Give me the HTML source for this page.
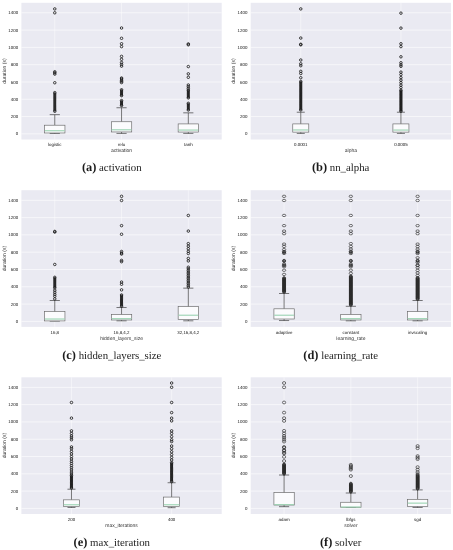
<!DOCTYPE html>
<html><head><meta charset="utf-8"><title>Boxplots</title>
<style>
html,body{margin:0;padding:0;background:#fff;}
body{width:453px;height:550px;overflow:hidden;}
svg{display:block;}
text{text-rendering:geometricPrecision;}
.t{font-family:"Liberation Sans",sans-serif;font-size:4.4px;fill:#111;}
.l{font-family:"Liberation Sans",sans-serif;font-size:5px;fill:#333;}
.c{font-family:"Liberation Serif",serif;font-size:10.8px;fill:#1c1c1c;}
.c .b{font-weight:bold;font-size:12.4px;}
</style></head><body>
<svg width="453" height="550" viewBox="0 0 453 550">
<rect width="453" height="550" fill="#fff"/>

<g>
<rect x="21.4" y="2.8" width="200.3" height="136.7" fill="#eaeaf2"/>
<line x1="21.4" x2="221.7" y1="133.85" y2="133.85" stroke="#fff" stroke-width="0.6"/>
<text class="t" x="18.1" y="135.40" text-anchor="end">0</text>
<line x1="21.4" x2="221.7" y1="116.56" y2="116.56" stroke="#fff" stroke-width="0.6"/>
<text class="t" x="18.1" y="118.11" text-anchor="end">200</text>
<line x1="21.4" x2="221.7" y1="99.27" y2="99.27" stroke="#fff" stroke-width="0.6"/>
<text class="t" x="18.1" y="100.82" text-anchor="end">400</text>
<line x1="21.4" x2="221.7" y1="81.97" y2="81.97" stroke="#fff" stroke-width="0.6"/>
<text class="t" x="18.1" y="83.52" text-anchor="end">600</text>
<line x1="21.4" x2="221.7" y1="64.68" y2="64.68" stroke="#fff" stroke-width="0.6"/>
<text class="t" x="18.1" y="66.23" text-anchor="end">800</text>
<line x1="21.4" x2="221.7" y1="47.39" y2="47.39" stroke="#fff" stroke-width="0.6"/>
<text class="t" x="18.1" y="48.94" text-anchor="end">1000</text>
<line x1="21.4" x2="221.7" y1="30.10" y2="30.10" stroke="#fff" stroke-width="0.6"/>
<text class="t" x="18.1" y="31.65" text-anchor="end">1200</text>
<line x1="21.4" x2="221.7" y1="12.81" y2="12.81" stroke="#fff" stroke-width="0.6"/>
<text class="t" x="18.1" y="14.36" text-anchor="end">1400</text>
<line x1="54.78" x2="54.78" y1="2.8" y2="139.4" stroke="#fff" stroke-width="0.45"/>
<line x1="121.55" x2="121.55" y1="2.8" y2="139.4" stroke="#fff" stroke-width="0.45"/>
<line x1="188.32" x2="188.32" y1="2.8" y2="139.4" stroke="#fff" stroke-width="0.45"/>
<path d="M54.78 125.20V114.66M49.70 114.66H59.87M54.78 132.99V133.42M49.70 133.42H59.87" stroke="#222" stroke-width="0.6" fill="none"/>
<rect x="44.62" y="125.20" width="20.33" height="7.78" fill="#fbfbfd" stroke="#666" stroke-width="0.65"/>
<line x1="44.92" x2="64.65" y1="130.74" y2="130.74" stroke="#9ad3b1" stroke-width="1.1"/>
<circle cx="54.78" cy="8.92" r="1.25" fill="none" stroke="#1a1a1a" stroke-width="0.85"/>
<circle cx="54.78" cy="12.81" r="1.25" fill="none" stroke="#1a1a1a" stroke-width="0.85"/>
<circle cx="54.78" cy="71.77" r="1.25" fill="none" stroke="#1a1a1a" stroke-width="0.85"/>
<circle cx="54.78" cy="72.81" r="1.25" fill="none" stroke="#1a1a1a" stroke-width="0.85"/>
<circle cx="54.78" cy="74.11" r="1.25" fill="none" stroke="#1a1a1a" stroke-width="0.85"/>
<circle cx="54.78" cy="82.75" r="1.25" fill="none" stroke="#1a1a1a" stroke-width="0.85"/>
<circle cx="54.78" cy="111.28" r="1.25" fill="none" stroke="#1a1a1a" stroke-width="0.85"/>
<circle cx="54.78" cy="110.25" r="1.05" fill="none" stroke="#1a1a1a" stroke-width="0.85"/>
<circle cx="54.78" cy="109.21" r="1.05" fill="none" stroke="#1a1a1a" stroke-width="0.85"/>
<circle cx="54.78" cy="108.17" r="1.05" fill="none" stroke="#1a1a1a" stroke-width="0.85"/>
<circle cx="54.78" cy="107.13" r="1.05" fill="none" stroke="#1a1a1a" stroke-width="0.85"/>
<circle cx="54.78" cy="106.10" r="1.05" fill="none" stroke="#1a1a1a" stroke-width="0.85"/>
<circle cx="54.78" cy="105.06" r="1.05" fill="none" stroke="#1a1a1a" stroke-width="0.85"/>
<circle cx="54.78" cy="104.02" r="1.05" fill="none" stroke="#1a1a1a" stroke-width="0.85"/>
<circle cx="54.78" cy="102.98" r="1.05" fill="none" stroke="#1a1a1a" stroke-width="0.85"/>
<circle cx="54.78" cy="101.95" r="1.05" fill="none" stroke="#1a1a1a" stroke-width="0.85"/>
<circle cx="54.78" cy="100.91" r="1.05" fill="none" stroke="#1a1a1a" stroke-width="0.85"/>
<circle cx="54.78" cy="99.87" r="1.05" fill="none" stroke="#1a1a1a" stroke-width="0.85"/>
<circle cx="54.78" cy="98.83" r="1.05" fill="none" stroke="#1a1a1a" stroke-width="0.85"/>
<circle cx="54.78" cy="97.80" r="1.05" fill="none" stroke="#1a1a1a" stroke-width="0.85"/>
<circle cx="54.78" cy="96.76" r="1.05" fill="none" stroke="#1a1a1a" stroke-width="0.85"/>
<circle cx="54.78" cy="95.72" r="1.05" fill="none" stroke="#1a1a1a" stroke-width="0.85"/>
<circle cx="54.78" cy="94.68" r="1.05" fill="none" stroke="#1a1a1a" stroke-width="0.85"/>
<circle cx="54.78" cy="93.65" r="1.05" fill="none" stroke="#1a1a1a" stroke-width="0.85"/>
<circle cx="54.78" cy="92.61" r="1.25" fill="none" stroke="#1a1a1a" stroke-width="0.85"/>
<text class="t" x="54.78" y="146.0" text-anchor="middle">logistic</text>
<path d="M121.55 121.75V107.74M116.47 107.74H126.63M121.55 131.95V133.42M116.47 133.42H126.63" stroke="#222" stroke-width="0.6" fill="none"/>
<rect x="111.39" y="121.75" width="20.33" height="10.20" fill="#fbfbfd" stroke="#666" stroke-width="0.65"/>
<line x1="111.69" x2="131.41" y1="129.79" y2="129.79" stroke="#9ad3b1" stroke-width="1.1"/>
<circle cx="121.55" cy="28.02" r="1.25" fill="none" stroke="#1a1a1a" stroke-width="0.85"/>
<circle cx="121.55" cy="38.31" r="1.25" fill="none" stroke="#1a1a1a" stroke-width="0.85"/>
<circle cx="121.55" cy="43.76" r="1.25" fill="none" stroke="#1a1a1a" stroke-width="0.85"/>
<circle cx="121.55" cy="46.61" r="1.25" fill="none" stroke="#1a1a1a" stroke-width="0.85"/>
<circle cx="121.55" cy="56.38" r="1.25" fill="none" stroke="#1a1a1a" stroke-width="0.85"/>
<circle cx="121.55" cy="59.32" r="1.25" fill="none" stroke="#1a1a1a" stroke-width="0.85"/>
<circle cx="121.55" cy="62.52" r="1.25" fill="none" stroke="#1a1a1a" stroke-width="0.85"/>
<circle cx="121.55" cy="64.42" r="1.25" fill="none" stroke="#1a1a1a" stroke-width="0.85"/>
<circle cx="121.55" cy="66.15" r="1.25" fill="none" stroke="#1a1a1a" stroke-width="0.85"/>
<circle cx="121.55" cy="78.00" r="1.25" fill="none" stroke="#1a1a1a" stroke-width="0.85"/>
<circle cx="121.55" cy="78.95" r="1.25" fill="none" stroke="#1a1a1a" stroke-width="0.85"/>
<circle cx="121.55" cy="80.24" r="1.25" fill="none" stroke="#1a1a1a" stroke-width="0.85"/>
<circle cx="121.55" cy="81.46" r="1.25" fill="none" stroke="#1a1a1a" stroke-width="0.85"/>
<circle cx="121.55" cy="82.58" r="1.25" fill="none" stroke="#1a1a1a" stroke-width="0.85"/>
<circle cx="121.55" cy="89.76" r="1.25" fill="none" stroke="#1a1a1a" stroke-width="0.85"/>
<circle cx="121.55" cy="90.62" r="1.05" fill="none" stroke="#1a1a1a" stroke-width="0.85"/>
<circle cx="121.55" cy="91.48" r="1.05" fill="none" stroke="#1a1a1a" stroke-width="0.85"/>
<circle cx="121.55" cy="92.35" r="1.05" fill="none" stroke="#1a1a1a" stroke-width="0.85"/>
<circle cx="121.55" cy="93.21" r="1.05" fill="none" stroke="#1a1a1a" stroke-width="0.85"/>
<circle cx="121.55" cy="94.08" r="1.05" fill="none" stroke="#1a1a1a" stroke-width="0.85"/>
<circle cx="121.55" cy="94.94" r="1.05" fill="none" stroke="#1a1a1a" stroke-width="0.85"/>
<circle cx="121.55" cy="95.63" r="1.25" fill="none" stroke="#1a1a1a" stroke-width="0.85"/>
<circle cx="121.55" cy="100.56" r="1.25" fill="none" stroke="#1a1a1a" stroke-width="0.85"/>
<circle cx="121.55" cy="101.43" r="1.05" fill="none" stroke="#1a1a1a" stroke-width="0.85"/>
<circle cx="121.55" cy="102.29" r="1.05" fill="none" stroke="#1a1a1a" stroke-width="0.85"/>
<circle cx="121.55" cy="103.16" r="1.05" fill="none" stroke="#1a1a1a" stroke-width="0.85"/>
<circle cx="121.55" cy="104.02" r="1.05" fill="none" stroke="#1a1a1a" stroke-width="0.85"/>
<circle cx="121.55" cy="104.89" r="1.05" fill="none" stroke="#1a1a1a" stroke-width="0.85"/>
<circle cx="121.55" cy="105.49" r="1.25" fill="none" stroke="#1a1a1a" stroke-width="0.85"/>
<text class="t" x="121.55" y="146.0" text-anchor="middle">relu</text>
<path d="M188.32 123.91V112.84M183.23 112.84H193.40M188.32 132.03V133.42M183.23 133.42H193.40" stroke="#222" stroke-width="0.6" fill="none"/>
<rect x="178.15" y="123.91" width="20.33" height="8.13" fill="#fbfbfd" stroke="#666" stroke-width="0.65"/>
<line x1="178.45" x2="198.18" y1="130.05" y2="130.05" stroke="#9ad3b1" stroke-width="1.1"/>
<circle cx="188.32" cy="43.93" r="1.25" fill="none" stroke="#1a1a1a" stroke-width="0.85"/>
<circle cx="188.32" cy="44.80" r="1.25" fill="none" stroke="#1a1a1a" stroke-width="0.85"/>
<circle cx="188.32" cy="66.58" r="1.25" fill="none" stroke="#1a1a1a" stroke-width="0.85"/>
<circle cx="188.32" cy="73.85" r="1.25" fill="none" stroke="#1a1a1a" stroke-width="0.85"/>
<circle cx="188.32" cy="77.31" r="1.25" fill="none" stroke="#1a1a1a" stroke-width="0.85"/>
<circle cx="188.32" cy="85.00" r="1.25" fill="none" stroke="#1a1a1a" stroke-width="0.85"/>
<circle cx="188.32" cy="86.73" r="1.25" fill="none" stroke="#1a1a1a" stroke-width="0.85"/>
<circle cx="188.32" cy="88.46" r="1.25" fill="none" stroke="#1a1a1a" stroke-width="0.85"/>
<circle cx="188.32" cy="97.88" r="1.25" fill="none" stroke="#1a1a1a" stroke-width="0.85"/>
<circle cx="188.32" cy="97.02" r="1.05" fill="none" stroke="#1a1a1a" stroke-width="0.85"/>
<circle cx="188.32" cy="96.15" r="1.05" fill="none" stroke="#1a1a1a" stroke-width="0.85"/>
<circle cx="188.32" cy="95.29" r="1.05" fill="none" stroke="#1a1a1a" stroke-width="0.85"/>
<circle cx="188.32" cy="94.42" r="1.05" fill="none" stroke="#1a1a1a" stroke-width="0.85"/>
<circle cx="188.32" cy="93.56" r="1.05" fill="none" stroke="#1a1a1a" stroke-width="0.85"/>
<circle cx="188.32" cy="92.70" r="1.05" fill="none" stroke="#1a1a1a" stroke-width="0.85"/>
<circle cx="188.32" cy="91.83" r="1.05" fill="none" stroke="#1a1a1a" stroke-width="0.85"/>
<circle cx="188.32" cy="90.97" r="1.05" fill="none" stroke="#1a1a1a" stroke-width="0.85"/>
<circle cx="188.32" cy="90.10" r="1.25" fill="none" stroke="#1a1a1a" stroke-width="0.85"/>
<circle cx="188.32" cy="109.99" r="1.25" fill="none" stroke="#1a1a1a" stroke-width="0.85"/>
<circle cx="188.32" cy="109.04" r="1.05" fill="none" stroke="#1a1a1a" stroke-width="0.85"/>
<circle cx="188.32" cy="108.08" r="1.05" fill="none" stroke="#1a1a1a" stroke-width="0.85"/>
<circle cx="188.32" cy="107.13" r="1.05" fill="none" stroke="#1a1a1a" stroke-width="0.85"/>
<circle cx="188.32" cy="106.18" r="1.05" fill="none" stroke="#1a1a1a" stroke-width="0.85"/>
<circle cx="188.32" cy="105.23" r="1.05" fill="none" stroke="#1a1a1a" stroke-width="0.85"/>
<circle cx="188.32" cy="104.28" r="1.05" fill="none" stroke="#1a1a1a" stroke-width="0.85"/>
<circle cx="188.32" cy="103.33" r="1.25" fill="none" stroke="#1a1a1a" stroke-width="0.85"/>
<text class="t" x="188.32" y="146.0" text-anchor="middle">tanh</text>
<text class="l" x="121.6" y="152.3" text-anchor="middle">activation</text>
<text class="l" transform="translate(5.8 71.1) rotate(-90)" text-anchor="middle">duration (s)</text>
<text class="c" x="111.8" y="171.2" text-anchor="middle"><tspan class="b">(a)</tspan> activation</text>
</g>
<g>
<rect x="250.7" y="2.8" width="200.3" height="136.7" fill="#eaeaf2"/>
<line x1="250.7" x2="451.0" y1="133.85" y2="133.85" stroke="#fff" stroke-width="0.6"/>
<text class="t" x="247.4" y="135.40" text-anchor="end">0</text>
<line x1="250.7" x2="451.0" y1="116.56" y2="116.56" stroke="#fff" stroke-width="0.6"/>
<text class="t" x="247.4" y="118.11" text-anchor="end">200</text>
<line x1="250.7" x2="451.0" y1="99.27" y2="99.27" stroke="#fff" stroke-width="0.6"/>
<text class="t" x="247.4" y="100.82" text-anchor="end">400</text>
<line x1="250.7" x2="451.0" y1="81.97" y2="81.97" stroke="#fff" stroke-width="0.6"/>
<text class="t" x="247.4" y="83.52" text-anchor="end">600</text>
<line x1="250.7" x2="451.0" y1="64.68" y2="64.68" stroke="#fff" stroke-width="0.6"/>
<text class="t" x="247.4" y="66.23" text-anchor="end">800</text>
<line x1="250.7" x2="451.0" y1="47.39" y2="47.39" stroke="#fff" stroke-width="0.6"/>
<text class="t" x="247.4" y="48.94" text-anchor="end">1000</text>
<line x1="250.7" x2="451.0" y1="30.10" y2="30.10" stroke="#fff" stroke-width="0.6"/>
<text class="t" x="247.4" y="31.65" text-anchor="end">1200</text>
<line x1="250.7" x2="451.0" y1="12.81" y2="12.81" stroke="#fff" stroke-width="0.6"/>
<text class="t" x="247.4" y="14.36" text-anchor="end">1400</text>
<line x1="300.77" x2="300.77" y1="2.8" y2="139.4" stroke="#fff" stroke-width="0.45"/>
<line x1="400.93" x2="400.93" y1="2.8" y2="139.4" stroke="#fff" stroke-width="0.45"/>
<path d="M300.77 123.91V112.23M296.77 112.23H304.78M300.77 132.12V133.42M296.77 133.42H304.78" stroke="#222" stroke-width="0.6" fill="none"/>
<rect x="292.76" y="123.91" width="16.02" height="8.21" fill="#fbfbfd" stroke="#666" stroke-width="0.65"/>
<line x1="293.06" x2="308.49" y1="129.96" y2="129.96" stroke="#9ad3b1" stroke-width="1.1"/>
<circle cx="300.77" cy="8.92" r="1.25" fill="none" stroke="#1a1a1a" stroke-width="0.85"/>
<circle cx="300.77" cy="38.05" r="1.25" fill="none" stroke="#1a1a1a" stroke-width="0.85"/>
<circle cx="300.77" cy="44.28" r="1.25" fill="none" stroke="#1a1a1a" stroke-width="0.85"/>
<circle cx="300.77" cy="44.80" r="1.25" fill="none" stroke="#1a1a1a" stroke-width="0.85"/>
<circle cx="300.77" cy="60.01" r="1.25" fill="none" stroke="#1a1a1a" stroke-width="0.85"/>
<circle cx="300.77" cy="63.82" r="1.25" fill="none" stroke="#1a1a1a" stroke-width="0.85"/>
<circle cx="300.77" cy="65.72" r="1.25" fill="none" stroke="#1a1a1a" stroke-width="0.85"/>
<circle cx="300.77" cy="71.34" r="1.25" fill="none" stroke="#1a1a1a" stroke-width="0.85"/>
<circle cx="300.77" cy="73.50" r="1.25" fill="none" stroke="#1a1a1a" stroke-width="0.85"/>
<circle cx="300.77" cy="77.74" r="1.25" fill="none" stroke="#1a1a1a" stroke-width="0.85"/>
<circle cx="300.77" cy="109.99" r="1.25" fill="none" stroke="#1a1a1a" stroke-width="0.85"/>
<circle cx="300.77" cy="109.12" r="1.05" fill="none" stroke="#1a1a1a" stroke-width="0.85"/>
<circle cx="300.77" cy="108.26" r="1.05" fill="none" stroke="#1a1a1a" stroke-width="0.85"/>
<circle cx="300.77" cy="107.39" r="1.05" fill="none" stroke="#1a1a1a" stroke-width="0.85"/>
<circle cx="300.77" cy="106.53" r="1.05" fill="none" stroke="#1a1a1a" stroke-width="0.85"/>
<circle cx="300.77" cy="105.66" r="1.05" fill="none" stroke="#1a1a1a" stroke-width="0.85"/>
<circle cx="300.77" cy="104.80" r="1.05" fill="none" stroke="#1a1a1a" stroke-width="0.85"/>
<circle cx="300.77" cy="103.93" r="1.05" fill="none" stroke="#1a1a1a" stroke-width="0.85"/>
<circle cx="300.77" cy="103.07" r="1.05" fill="none" stroke="#1a1a1a" stroke-width="0.85"/>
<circle cx="300.77" cy="102.21" r="1.05" fill="none" stroke="#1a1a1a" stroke-width="0.85"/>
<circle cx="300.77" cy="101.34" r="1.05" fill="none" stroke="#1a1a1a" stroke-width="0.85"/>
<circle cx="300.77" cy="100.48" r="1.05" fill="none" stroke="#1a1a1a" stroke-width="0.85"/>
<circle cx="300.77" cy="99.61" r="1.05" fill="none" stroke="#1a1a1a" stroke-width="0.85"/>
<circle cx="300.77" cy="98.75" r="1.05" fill="none" stroke="#1a1a1a" stroke-width="0.85"/>
<circle cx="300.77" cy="97.88" r="1.05" fill="none" stroke="#1a1a1a" stroke-width="0.85"/>
<circle cx="300.77" cy="97.02" r="1.05" fill="none" stroke="#1a1a1a" stroke-width="0.85"/>
<circle cx="300.77" cy="96.15" r="1.05" fill="none" stroke="#1a1a1a" stroke-width="0.85"/>
<circle cx="300.77" cy="95.29" r="1.05" fill="none" stroke="#1a1a1a" stroke-width="0.85"/>
<circle cx="300.77" cy="94.42" r="1.05" fill="none" stroke="#1a1a1a" stroke-width="0.85"/>
<circle cx="300.77" cy="93.56" r="1.05" fill="none" stroke="#1a1a1a" stroke-width="0.85"/>
<circle cx="300.77" cy="92.70" r="1.05" fill="none" stroke="#1a1a1a" stroke-width="0.85"/>
<circle cx="300.77" cy="91.83" r="1.05" fill="none" stroke="#1a1a1a" stroke-width="0.85"/>
<circle cx="300.77" cy="90.97" r="1.05" fill="none" stroke="#1a1a1a" stroke-width="0.85"/>
<circle cx="300.77" cy="90.10" r="1.05" fill="none" stroke="#1a1a1a" stroke-width="0.85"/>
<circle cx="300.77" cy="89.24" r="1.05" fill="none" stroke="#1a1a1a" stroke-width="0.85"/>
<circle cx="300.77" cy="88.37" r="1.05" fill="none" stroke="#1a1a1a" stroke-width="0.85"/>
<circle cx="300.77" cy="87.51" r="1.05" fill="none" stroke="#1a1a1a" stroke-width="0.85"/>
<circle cx="300.77" cy="86.64" r="1.05" fill="none" stroke="#1a1a1a" stroke-width="0.85"/>
<circle cx="300.77" cy="85.78" r="1.05" fill="none" stroke="#1a1a1a" stroke-width="0.85"/>
<circle cx="300.77" cy="84.91" r="1.05" fill="none" stroke="#1a1a1a" stroke-width="0.85"/>
<circle cx="300.77" cy="84.05" r="1.05" fill="none" stroke="#1a1a1a" stroke-width="0.85"/>
<circle cx="300.77" cy="83.18" r="1.05" fill="none" stroke="#1a1a1a" stroke-width="0.85"/>
<circle cx="300.77" cy="82.32" r="1.05" fill="none" stroke="#1a1a1a" stroke-width="0.85"/>
<circle cx="300.77" cy="81.46" r="1.25" fill="none" stroke="#1a1a1a" stroke-width="0.85"/>
<text class="t" x="300.77" y="146.0" text-anchor="middle">0.0001</text>
<path d="M400.93 123.91V112.23M396.92 112.23H404.93M400.93 132.12V133.42M396.92 133.42H404.93" stroke="#222" stroke-width="0.6" fill="none"/>
<rect x="392.91" y="123.91" width="16.02" height="8.21" fill="#fbfbfd" stroke="#666" stroke-width="0.65"/>
<line x1="393.21" x2="408.64" y1="130.05" y2="130.05" stroke="#9ad3b1" stroke-width="1.1"/>
<circle cx="400.93" cy="13.15" r="1.25" fill="none" stroke="#1a1a1a" stroke-width="0.85"/>
<circle cx="400.93" cy="28.11" r="1.25" fill="none" stroke="#1a1a1a" stroke-width="0.85"/>
<circle cx="400.93" cy="43.76" r="1.25" fill="none" stroke="#1a1a1a" stroke-width="0.85"/>
<circle cx="400.93" cy="46.61" r="1.25" fill="none" stroke="#1a1a1a" stroke-width="0.85"/>
<circle cx="400.93" cy="56.81" r="1.25" fill="none" stroke="#1a1a1a" stroke-width="0.85"/>
<circle cx="400.93" cy="62.78" r="1.25" fill="none" stroke="#1a1a1a" stroke-width="0.85"/>
<circle cx="400.93" cy="64.85" r="1.25" fill="none" stroke="#1a1a1a" stroke-width="0.85"/>
<circle cx="400.93" cy="66.32" r="1.25" fill="none" stroke="#1a1a1a" stroke-width="0.85"/>
<circle cx="400.93" cy="72.12" r="1.25" fill="none" stroke="#1a1a1a" stroke-width="0.85"/>
<circle cx="400.93" cy="74.62" r="1.25" fill="none" stroke="#1a1a1a" stroke-width="0.85"/>
<circle cx="400.93" cy="77.65" r="1.25" fill="none" stroke="#1a1a1a" stroke-width="0.85"/>
<circle cx="400.93" cy="80.16" r="1.25" fill="none" stroke="#1a1a1a" stroke-width="0.85"/>
<circle cx="400.93" cy="82.67" r="1.25" fill="none" stroke="#1a1a1a" stroke-width="0.85"/>
<circle cx="400.93" cy="85.17" r="1.25" fill="none" stroke="#1a1a1a" stroke-width="0.85"/>
<circle cx="400.93" cy="87.59" r="1.25" fill="none" stroke="#1a1a1a" stroke-width="0.85"/>
<circle cx="400.93" cy="111.20" r="1.25" fill="none" stroke="#1a1a1a" stroke-width="0.85"/>
<circle cx="400.93" cy="110.42" r="1.05" fill="none" stroke="#1a1a1a" stroke-width="0.85"/>
<circle cx="400.93" cy="109.64" r="1.05" fill="none" stroke="#1a1a1a" stroke-width="0.85"/>
<circle cx="400.93" cy="108.86" r="1.05" fill="none" stroke="#1a1a1a" stroke-width="0.85"/>
<circle cx="400.93" cy="108.08" r="1.05" fill="none" stroke="#1a1a1a" stroke-width="0.85"/>
<circle cx="400.93" cy="107.31" r="1.05" fill="none" stroke="#1a1a1a" stroke-width="0.85"/>
<circle cx="400.93" cy="106.53" r="1.05" fill="none" stroke="#1a1a1a" stroke-width="0.85"/>
<circle cx="400.93" cy="105.75" r="1.05" fill="none" stroke="#1a1a1a" stroke-width="0.85"/>
<circle cx="400.93" cy="104.97" r="1.05" fill="none" stroke="#1a1a1a" stroke-width="0.85"/>
<circle cx="400.93" cy="104.19" r="1.05" fill="none" stroke="#1a1a1a" stroke-width="0.85"/>
<circle cx="400.93" cy="103.42" r="1.05" fill="none" stroke="#1a1a1a" stroke-width="0.85"/>
<circle cx="400.93" cy="102.64" r="1.05" fill="none" stroke="#1a1a1a" stroke-width="0.85"/>
<circle cx="400.93" cy="101.86" r="1.05" fill="none" stroke="#1a1a1a" stroke-width="0.85"/>
<circle cx="400.93" cy="101.08" r="1.05" fill="none" stroke="#1a1a1a" stroke-width="0.85"/>
<circle cx="400.93" cy="100.30" r="1.05" fill="none" stroke="#1a1a1a" stroke-width="0.85"/>
<circle cx="400.93" cy="99.53" r="1.05" fill="none" stroke="#1a1a1a" stroke-width="0.85"/>
<circle cx="400.93" cy="98.75" r="1.05" fill="none" stroke="#1a1a1a" stroke-width="0.85"/>
<circle cx="400.93" cy="97.97" r="1.05" fill="none" stroke="#1a1a1a" stroke-width="0.85"/>
<circle cx="400.93" cy="97.19" r="1.05" fill="none" stroke="#1a1a1a" stroke-width="0.85"/>
<circle cx="400.93" cy="96.41" r="1.05" fill="none" stroke="#1a1a1a" stroke-width="0.85"/>
<circle cx="400.93" cy="95.63" r="1.05" fill="none" stroke="#1a1a1a" stroke-width="0.85"/>
<circle cx="400.93" cy="94.86" r="1.05" fill="none" stroke="#1a1a1a" stroke-width="0.85"/>
<circle cx="400.93" cy="94.08" r="1.05" fill="none" stroke="#1a1a1a" stroke-width="0.85"/>
<circle cx="400.93" cy="93.30" r="1.05" fill="none" stroke="#1a1a1a" stroke-width="0.85"/>
<circle cx="400.93" cy="92.52" r="1.05" fill="none" stroke="#1a1a1a" stroke-width="0.85"/>
<circle cx="400.93" cy="91.74" r="1.05" fill="none" stroke="#1a1a1a" stroke-width="0.85"/>
<circle cx="400.93" cy="90.97" r="1.05" fill="none" stroke="#1a1a1a" stroke-width="0.85"/>
<circle cx="400.93" cy="90.19" r="1.25" fill="none" stroke="#1a1a1a" stroke-width="0.85"/>
<text class="t" x="400.93" y="146.0" text-anchor="middle">0.0005</text>
<text class="l" x="350.9" y="152.3" text-anchor="middle">alpha</text>
<text class="l" transform="translate(235.1 71.1) rotate(-90)" text-anchor="middle">duration (s)</text>
<text class="c" x="340.7" y="171.2" text-anchor="middle"><tspan class="b">(b)</tspan> nn_alpha</text>
</g>
<g>
<rect x="21.4" y="190.2" width="200.3" height="136.7" fill="#eaeaf2"/>
<line x1="21.4" x2="221.7" y1="321.35" y2="321.35" stroke="#fff" stroke-width="0.6"/>
<text class="t" x="18.1" y="322.90" text-anchor="end">0</text>
<line x1="21.4" x2="221.7" y1="304.06" y2="304.06" stroke="#fff" stroke-width="0.6"/>
<text class="t" x="18.1" y="305.61" text-anchor="end">200</text>
<line x1="21.4" x2="221.7" y1="286.77" y2="286.77" stroke="#fff" stroke-width="0.6"/>
<text class="t" x="18.1" y="288.32" text-anchor="end">400</text>
<line x1="21.4" x2="221.7" y1="269.47" y2="269.47" stroke="#fff" stroke-width="0.6"/>
<text class="t" x="18.1" y="271.02" text-anchor="end">600</text>
<line x1="21.4" x2="221.7" y1="252.18" y2="252.18" stroke="#fff" stroke-width="0.6"/>
<text class="t" x="18.1" y="253.73" text-anchor="end">800</text>
<line x1="21.4" x2="221.7" y1="234.89" y2="234.89" stroke="#fff" stroke-width="0.6"/>
<text class="t" x="18.1" y="236.44" text-anchor="end">1000</text>
<line x1="21.4" x2="221.7" y1="217.60" y2="217.60" stroke="#fff" stroke-width="0.6"/>
<text class="t" x="18.1" y="219.15" text-anchor="end">1200</text>
<line x1="21.4" x2="221.7" y1="200.31" y2="200.31" stroke="#fff" stroke-width="0.6"/>
<text class="t" x="18.1" y="201.86" text-anchor="end">1400</text>
<line x1="54.78" x2="54.78" y1="190.2" y2="326.9" stroke="#fff" stroke-width="0.45"/>
<line x1="121.55" x2="121.55" y1="190.2" y2="326.9" stroke="#fff" stroke-width="0.45"/>
<line x1="188.32" x2="188.32" y1="190.2" y2="326.9" stroke="#fff" stroke-width="0.45"/>
<path d="M54.78 311.67V300.51M49.70 300.51H59.87M54.78 320.92V321.09M49.70 321.09H59.87" stroke="#222" stroke-width="0.6" fill="none"/>
<rect x="44.62" y="311.67" width="20.33" height="9.25" fill="#fbfbfd" stroke="#666" stroke-width="0.65"/>
<line x1="44.92" x2="64.65" y1="319.02" y2="319.02" stroke="#9ad3b1" stroke-width="1.1"/>
<circle cx="54.78" cy="231.43" r="1.25" fill="none" stroke="#1a1a1a" stroke-width="0.85"/>
<circle cx="54.78" cy="232.04" r="1.25" fill="none" stroke="#1a1a1a" stroke-width="0.85"/>
<circle cx="54.78" cy="264.46" r="1.25" fill="none" stroke="#1a1a1a" stroke-width="0.85"/>
<circle cx="54.78" cy="287.80" r="1.25" fill="none" stroke="#1a1a1a" stroke-width="0.85"/>
<circle cx="54.78" cy="286.85" r="1.05" fill="none" stroke="#1a1a1a" stroke-width="0.85"/>
<circle cx="54.78" cy="285.90" r="1.05" fill="none" stroke="#1a1a1a" stroke-width="0.85"/>
<circle cx="54.78" cy="284.95" r="1.05" fill="none" stroke="#1a1a1a" stroke-width="0.85"/>
<circle cx="54.78" cy="284.00" r="1.05" fill="none" stroke="#1a1a1a" stroke-width="0.85"/>
<circle cx="54.78" cy="283.05" r="1.05" fill="none" stroke="#1a1a1a" stroke-width="0.85"/>
<circle cx="54.78" cy="282.10" r="1.05" fill="none" stroke="#1a1a1a" stroke-width="0.85"/>
<circle cx="54.78" cy="281.15" r="1.05" fill="none" stroke="#1a1a1a" stroke-width="0.85"/>
<circle cx="54.78" cy="280.20" r="1.05" fill="none" stroke="#1a1a1a" stroke-width="0.85"/>
<circle cx="54.78" cy="279.24" r="1.05" fill="none" stroke="#1a1a1a" stroke-width="0.85"/>
<circle cx="54.78" cy="278.29" r="1.05" fill="none" stroke="#1a1a1a" stroke-width="0.85"/>
<circle cx="54.78" cy="277.34" r="1.25" fill="none" stroke="#1a1a1a" stroke-width="0.85"/>
<circle cx="54.78" cy="290.22" r="1.25" fill="none" stroke="#1a1a1a" stroke-width="0.85"/>
<circle cx="54.78" cy="292.30" r="1.25" fill="none" stroke="#1a1a1a" stroke-width="0.85"/>
<circle cx="54.78" cy="294.37" r="1.25" fill="none" stroke="#1a1a1a" stroke-width="0.85"/>
<circle cx="54.78" cy="296.28" r="1.25" fill="none" stroke="#1a1a1a" stroke-width="0.85"/>
<circle cx="54.78" cy="298.87" r="1.25" fill="none" stroke="#1a1a1a" stroke-width="0.85"/>
<text class="t" x="54.78" y="333.6" text-anchor="middle">16,8</text>
<path d="M121.55 314.52V307.52M116.47 307.52H126.63M121.55 319.97V320.83M116.47 320.83H126.63" stroke="#222" stroke-width="0.6" fill="none"/>
<rect x="111.39" y="314.52" width="20.33" height="5.45" fill="#fbfbfd" stroke="#666" stroke-width="0.65"/>
<line x1="111.69" x2="131.41" y1="318.67" y2="318.67" stroke="#9ad3b1" stroke-width="1.1"/>
<circle cx="121.55" cy="196.33" r="1.25" fill="none" stroke="#1a1a1a" stroke-width="0.85"/>
<circle cx="121.55" cy="200.48" r="1.25" fill="none" stroke="#1a1a1a" stroke-width="0.85"/>
<circle cx="121.55" cy="225.64" r="1.25" fill="none" stroke="#1a1a1a" stroke-width="0.85"/>
<circle cx="121.55" cy="234.28" r="1.25" fill="none" stroke="#1a1a1a" stroke-width="0.85"/>
<circle cx="121.55" cy="251.49" r="1.25" fill="none" stroke="#1a1a1a" stroke-width="0.85"/>
<circle cx="121.55" cy="253.05" r="1.25" fill="none" stroke="#1a1a1a" stroke-width="0.85"/>
<circle cx="121.55" cy="254.08" r="1.25" fill="none" stroke="#1a1a1a" stroke-width="0.85"/>
<circle cx="121.55" cy="260.40" r="1.25" fill="none" stroke="#1a1a1a" stroke-width="0.85"/>
<circle cx="121.55" cy="261.69" r="1.25" fill="none" stroke="#1a1a1a" stroke-width="0.85"/>
<circle cx="121.55" cy="282.10" r="1.25" fill="none" stroke="#1a1a1a" stroke-width="0.85"/>
<circle cx="121.55" cy="284.26" r="1.25" fill="none" stroke="#1a1a1a" stroke-width="0.85"/>
<circle cx="121.55" cy="289.88" r="1.25" fill="none" stroke="#1a1a1a" stroke-width="0.85"/>
<circle cx="121.55" cy="306.22" r="1.25" fill="none" stroke="#1a1a1a" stroke-width="0.85"/>
<circle cx="121.55" cy="305.35" r="1.05" fill="none" stroke="#1a1a1a" stroke-width="0.85"/>
<circle cx="121.55" cy="304.49" r="1.05" fill="none" stroke="#1a1a1a" stroke-width="0.85"/>
<circle cx="121.55" cy="303.63" r="1.05" fill="none" stroke="#1a1a1a" stroke-width="0.85"/>
<circle cx="121.55" cy="302.76" r="1.05" fill="none" stroke="#1a1a1a" stroke-width="0.85"/>
<circle cx="121.55" cy="301.90" r="1.05" fill="none" stroke="#1a1a1a" stroke-width="0.85"/>
<circle cx="121.55" cy="301.03" r="1.05" fill="none" stroke="#1a1a1a" stroke-width="0.85"/>
<circle cx="121.55" cy="300.17" r="1.05" fill="none" stroke="#1a1a1a" stroke-width="0.85"/>
<circle cx="121.55" cy="299.30" r="1.05" fill="none" stroke="#1a1a1a" stroke-width="0.85"/>
<circle cx="121.55" cy="298.44" r="1.05" fill="none" stroke="#1a1a1a" stroke-width="0.85"/>
<circle cx="121.55" cy="297.57" r="1.05" fill="none" stroke="#1a1a1a" stroke-width="0.85"/>
<circle cx="121.55" cy="296.71" r="1.05" fill="none" stroke="#1a1a1a" stroke-width="0.85"/>
<circle cx="121.55" cy="295.84" r="1.05" fill="none" stroke="#1a1a1a" stroke-width="0.85"/>
<circle cx="121.55" cy="294.98" r="1.25" fill="none" stroke="#1a1a1a" stroke-width="0.85"/>
<text class="t" x="121.55" y="333.6" text-anchor="middle">16,8,4,2</text>
<path d="M188.32 306.65V288.15M183.23 288.15H193.40M188.32 319.62V320.83M183.23 320.83H193.40" stroke="#222" stroke-width="0.6" fill="none"/>
<rect x="178.15" y="306.65" width="20.33" height="12.97" fill="#fbfbfd" stroke="#666" stroke-width="0.65"/>
<line x1="178.45" x2="198.18" y1="315.21" y2="315.21" stroke="#9ad3b1" stroke-width="1.1"/>
<circle cx="188.32" cy="215.44" r="1.25" fill="none" stroke="#1a1a1a" stroke-width="0.85"/>
<circle cx="188.32" cy="231.09" r="1.25" fill="none" stroke="#1a1a1a" stroke-width="0.85"/>
<circle cx="188.32" cy="243.62" r="1.25" fill="none" stroke="#1a1a1a" stroke-width="0.85"/>
<circle cx="188.32" cy="246.13" r="1.25" fill="none" stroke="#1a1a1a" stroke-width="0.85"/>
<circle cx="188.32" cy="248.72" r="1.25" fill="none" stroke="#1a1a1a" stroke-width="0.85"/>
<circle cx="188.32" cy="251.32" r="1.25" fill="none" stroke="#1a1a1a" stroke-width="0.85"/>
<circle cx="188.32" cy="253.48" r="1.25" fill="none" stroke="#1a1a1a" stroke-width="0.85"/>
<circle cx="188.32" cy="258.41" r="1.25" fill="none" stroke="#1a1a1a" stroke-width="0.85"/>
<circle cx="188.32" cy="260.91" r="1.25" fill="none" stroke="#1a1a1a" stroke-width="0.85"/>
<circle cx="188.32" cy="286.94" r="1.25" fill="none" stroke="#1a1a1a" stroke-width="0.85"/>
<circle cx="188.32" cy="285.30" r="1.25" fill="none" stroke="#1a1a1a" stroke-width="0.85"/>
<circle cx="188.32" cy="283.65" r="1.25" fill="none" stroke="#1a1a1a" stroke-width="0.85"/>
<circle cx="188.32" cy="282.01" r="1.25" fill="none" stroke="#1a1a1a" stroke-width="0.85"/>
<circle cx="188.32" cy="280.37" r="1.25" fill="none" stroke="#1a1a1a" stroke-width="0.85"/>
<circle cx="188.32" cy="278.73" r="1.25" fill="none" stroke="#1a1a1a" stroke-width="0.85"/>
<circle cx="188.32" cy="277.08" r="1.25" fill="none" stroke="#1a1a1a" stroke-width="0.85"/>
<circle cx="188.32" cy="275.44" r="1.25" fill="none" stroke="#1a1a1a" stroke-width="0.85"/>
<circle cx="188.32" cy="273.80" r="1.25" fill="none" stroke="#1a1a1a" stroke-width="0.85"/>
<circle cx="188.32" cy="272.15" r="1.25" fill="none" stroke="#1a1a1a" stroke-width="0.85"/>
<circle cx="188.32" cy="270.51" r="1.25" fill="none" stroke="#1a1a1a" stroke-width="0.85"/>
<circle cx="188.32" cy="268.87" r="1.25" fill="none" stroke="#1a1a1a" stroke-width="0.85"/>
<circle cx="188.32" cy="267.23" r="1.25" fill="none" stroke="#1a1a1a" stroke-width="0.85"/>
<text class="t" x="188.32" y="333.6" text-anchor="middle">32,16,8,4,2</text>
<text class="l" x="121.6" y="339.8" text-anchor="middle">hidden_layers_size</text>
<text class="l" transform="translate(5.8 258.6) rotate(-90)" text-anchor="middle">duration (s)</text>
<text class="c" x="111.8" y="358.8" text-anchor="middle"><tspan class="b">(c)</tspan> hidden_layers_size</text>
</g>
<g>
<rect x="250.7" y="190.2" width="200.3" height="136.7" fill="#eaeaf2"/>
<line x1="250.7" x2="451.0" y1="321.35" y2="321.35" stroke="#fff" stroke-width="0.6"/>
<text class="t" x="247.4" y="322.90" text-anchor="end">0</text>
<line x1="250.7" x2="451.0" y1="304.06" y2="304.06" stroke="#fff" stroke-width="0.6"/>
<text class="t" x="247.4" y="305.61" text-anchor="end">200</text>
<line x1="250.7" x2="451.0" y1="286.77" y2="286.77" stroke="#fff" stroke-width="0.6"/>
<text class="t" x="247.4" y="288.32" text-anchor="end">400</text>
<line x1="250.7" x2="451.0" y1="269.47" y2="269.47" stroke="#fff" stroke-width="0.6"/>
<text class="t" x="247.4" y="271.02" text-anchor="end">600</text>
<line x1="250.7" x2="451.0" y1="252.18" y2="252.18" stroke="#fff" stroke-width="0.6"/>
<text class="t" x="247.4" y="253.73" text-anchor="end">800</text>
<line x1="250.7" x2="451.0" y1="234.89" y2="234.89" stroke="#fff" stroke-width="0.6"/>
<text class="t" x="247.4" y="236.44" text-anchor="end">1000</text>
<line x1="250.7" x2="451.0" y1="217.60" y2="217.60" stroke="#fff" stroke-width="0.6"/>
<text class="t" x="247.4" y="219.15" text-anchor="end">1200</text>
<line x1="250.7" x2="451.0" y1="200.31" y2="200.31" stroke="#fff" stroke-width="0.6"/>
<text class="t" x="247.4" y="201.86" text-anchor="end">1400</text>
<line x1="284.08" x2="284.08" y1="190.2" y2="326.9" stroke="#fff" stroke-width="0.45"/>
<line x1="350.85" x2="350.85" y1="190.2" y2="326.9" stroke="#fff" stroke-width="0.45"/>
<line x1="417.62" x2="417.62" y1="190.2" y2="326.9" stroke="#fff" stroke-width="0.45"/>
<path d="M284.08 308.81V293.51M279.00 293.51H289.17M284.08 319.02V320.57M279.00 320.57H289.17" stroke="#222" stroke-width="0.6" fill="none"/>
<rect x="273.92" y="308.81" width="20.33" height="10.20" fill="#fbfbfd" stroke="#666" stroke-width="0.65"/>
<line x1="274.22" x2="293.95" y1="315.21" y2="315.21" stroke="#9ad3b1" stroke-width="1.1"/>
<ellipse cx="284.08" cy="196.33" rx="1.7" ry="1.2" fill="none" stroke="#2a2a2a" stroke-width="0.65"/>
<ellipse cx="284.08" cy="200.48" rx="1.7" ry="1.2" fill="none" stroke="#2a2a2a" stroke-width="0.65"/>
<ellipse cx="284.08" cy="215.44" rx="1.7" ry="1.2" fill="none" stroke="#2a2a2a" stroke-width="0.65"/>
<ellipse cx="284.08" cy="225.64" rx="1.7" ry="1.2" fill="none" stroke="#2a2a2a" stroke-width="0.65"/>
<ellipse cx="284.08" cy="231.09" rx="1.7" ry="1.2" fill="none" stroke="#2a2a2a" stroke-width="0.65"/>
<ellipse cx="284.08" cy="233.68" rx="1.7" ry="1.2" fill="none" stroke="#2a2a2a" stroke-width="0.65"/>
<ellipse cx="284.08" cy="244.14" rx="1.7" ry="1.2" fill="none" stroke="#2a2a2a" stroke-width="0.65"/>
<ellipse cx="284.08" cy="246.39" rx="1.7" ry="1.2" fill="none" stroke="#2a2a2a" stroke-width="0.65"/>
<ellipse cx="284.08" cy="249.59" rx="1.7" ry="1.2" fill="none" stroke="#2a2a2a" stroke-width="0.65"/>
<ellipse cx="284.08" cy="251.49" rx="1.7" ry="1.2" fill="none" stroke="#2a2a2a" stroke-width="0.65"/>
<ellipse cx="284.08" cy="252.10" rx="1.45" ry="1.2" fill="none" stroke="#2a2a2a" stroke-width="0.65"/>
<ellipse cx="284.08" cy="252.70" rx="1.45" ry="1.2" fill="none" stroke="#2a2a2a" stroke-width="0.65"/>
<ellipse cx="284.08" cy="253.39" rx="1.7" ry="1.2" fill="none" stroke="#2a2a2a" stroke-width="0.65"/>
<ellipse cx="284.08" cy="260.48" rx="1.45" ry="1.2" fill="none" stroke="#2a2a2a" stroke-width="0.65"/>
<ellipse cx="284.08" cy="260.91" rx="1.45" ry="1.2" fill="none" stroke="#2a2a2a" stroke-width="0.65"/>
<ellipse cx="284.08" cy="261.35" rx="1.45" ry="1.2" fill="none" stroke="#2a2a2a" stroke-width="0.65"/>
<ellipse cx="284.08" cy="264.11" rx="1.7" ry="1.2" fill="none" stroke="#2a2a2a" stroke-width="0.65"/>
<ellipse cx="284.08" cy="265.15" rx="1.45" ry="1.2" fill="none" stroke="#2a2a2a" stroke-width="0.65"/>
<ellipse cx="284.08" cy="265.58" rx="1.7" ry="1.2" fill="none" stroke="#2a2a2a" stroke-width="0.65"/>
<ellipse cx="284.08" cy="266.71" rx="1.7" ry="1.2" fill="none" stroke="#2a2a2a" stroke-width="0.65"/>
<ellipse cx="284.08" cy="270.25" rx="1.7" ry="1.2" fill="none" stroke="#2a2a2a" stroke-width="0.65"/>
<ellipse cx="284.08" cy="274.40" rx="1.7" ry="1.2" fill="none" stroke="#2a2a2a" stroke-width="0.65"/>
<ellipse cx="284.08" cy="292.13" rx="1.45" ry="1.2" fill="none" stroke="#2a2a2a" stroke-width="0.65"/>
<ellipse cx="284.08" cy="291.69" rx="1.45" ry="1.2" fill="none" stroke="#2a2a2a" stroke-width="0.65"/>
<ellipse cx="284.08" cy="291.26" rx="1.45" ry="1.2" fill="none" stroke="#2a2a2a" stroke-width="0.65"/>
<ellipse cx="284.08" cy="290.83" rx="1.45" ry="1.2" fill="none" stroke="#2a2a2a" stroke-width="0.65"/>
<ellipse cx="284.08" cy="290.40" rx="1.45" ry="1.2" fill="none" stroke="#2a2a2a" stroke-width="0.65"/>
<ellipse cx="284.08" cy="289.97" rx="1.45" ry="1.2" fill="none" stroke="#2a2a2a" stroke-width="0.65"/>
<ellipse cx="284.08" cy="289.53" rx="1.45" ry="1.2" fill="none" stroke="#2a2a2a" stroke-width="0.65"/>
<ellipse cx="284.08" cy="289.10" rx="1.45" ry="1.2" fill="none" stroke="#2a2a2a" stroke-width="0.65"/>
<ellipse cx="284.08" cy="288.67" rx="1.45" ry="1.2" fill="none" stroke="#2a2a2a" stroke-width="0.65"/>
<ellipse cx="284.08" cy="288.24" rx="1.45" ry="1.2" fill="none" stroke="#2a2a2a" stroke-width="0.65"/>
<ellipse cx="284.08" cy="287.80" rx="1.45" ry="1.2" fill="none" stroke="#2a2a2a" stroke-width="0.65"/>
<ellipse cx="284.08" cy="287.37" rx="1.45" ry="1.2" fill="none" stroke="#2a2a2a" stroke-width="0.65"/>
<ellipse cx="284.08" cy="286.94" rx="1.45" ry="1.2" fill="none" stroke="#2a2a2a" stroke-width="0.65"/>
<ellipse cx="284.08" cy="286.51" rx="1.45" ry="1.2" fill="none" stroke="#2a2a2a" stroke-width="0.65"/>
<ellipse cx="284.08" cy="286.07" rx="1.45" ry="1.2" fill="none" stroke="#2a2a2a" stroke-width="0.65"/>
<ellipse cx="284.08" cy="285.64" rx="1.45" ry="1.2" fill="none" stroke="#2a2a2a" stroke-width="0.65"/>
<ellipse cx="284.08" cy="285.21" rx="1.45" ry="1.2" fill="none" stroke="#2a2a2a" stroke-width="0.65"/>
<ellipse cx="284.08" cy="284.78" rx="1.45" ry="1.2" fill="none" stroke="#2a2a2a" stroke-width="0.65"/>
<ellipse cx="284.08" cy="284.35" rx="1.45" ry="1.2" fill="none" stroke="#2a2a2a" stroke-width="0.65"/>
<ellipse cx="284.08" cy="283.91" rx="1.45" ry="1.2" fill="none" stroke="#2a2a2a" stroke-width="0.65"/>
<ellipse cx="284.08" cy="283.48" rx="1.45" ry="1.2" fill="none" stroke="#2a2a2a" stroke-width="0.65"/>
<ellipse cx="284.08" cy="283.05" rx="1.45" ry="1.2" fill="none" stroke="#2a2a2a" stroke-width="0.65"/>
<ellipse cx="284.08" cy="282.62" rx="1.45" ry="1.2" fill="none" stroke="#2a2a2a" stroke-width="0.65"/>
<ellipse cx="284.08" cy="282.18" rx="1.45" ry="1.2" fill="none" stroke="#2a2a2a" stroke-width="0.65"/>
<ellipse cx="284.08" cy="281.75" rx="1.45" ry="1.2" fill="none" stroke="#2a2a2a" stroke-width="0.65"/>
<ellipse cx="284.08" cy="281.32" rx="1.45" ry="1.2" fill="none" stroke="#2a2a2a" stroke-width="0.65"/>
<ellipse cx="284.08" cy="280.89" rx="1.45" ry="1.2" fill="none" stroke="#2a2a2a" stroke-width="0.65"/>
<ellipse cx="284.08" cy="280.45" rx="1.45" ry="1.2" fill="none" stroke="#2a2a2a" stroke-width="0.65"/>
<ellipse cx="284.08" cy="280.02" rx="1.45" ry="1.2" fill="none" stroke="#2a2a2a" stroke-width="0.65"/>
<ellipse cx="284.08" cy="279.59" rx="1.45" ry="1.2" fill="none" stroke="#2a2a2a" stroke-width="0.65"/>
<ellipse cx="284.08" cy="279.16" rx="1.45" ry="1.2" fill="none" stroke="#2a2a2a" stroke-width="0.65"/>
<ellipse cx="284.08" cy="278.73" rx="1.45" ry="1.2" fill="none" stroke="#2a2a2a" stroke-width="0.65"/>
<ellipse cx="284.08" cy="278.29" rx="1.45" ry="1.2" fill="none" stroke="#2a2a2a" stroke-width="0.65"/>
<ellipse cx="284.08" cy="277.86" rx="1.45" ry="1.2" fill="none" stroke="#2a2a2a" stroke-width="0.65"/>
<text class="t" x="284.08" y="333.6" text-anchor="middle">adaptive</text>
<path d="M350.85 314.52V306.31M345.77 306.31H355.93M350.85 319.97V320.83M345.77 320.83H355.93" stroke="#222" stroke-width="0.6" fill="none"/>
<rect x="340.69" y="314.52" width="20.33" height="5.45" fill="#fbfbfd" stroke="#666" stroke-width="0.65"/>
<line x1="340.99" x2="360.72" y1="318.67" y2="318.67" stroke="#9ad3b1" stroke-width="1.1"/>
<ellipse cx="350.85" cy="196.33" rx="1.7" ry="1.2" fill="none" stroke="#2a2a2a" stroke-width="0.65"/>
<ellipse cx="350.85" cy="200.48" rx="1.7" ry="1.2" fill="none" stroke="#2a2a2a" stroke-width="0.65"/>
<ellipse cx="350.85" cy="215.44" rx="1.7" ry="1.2" fill="none" stroke="#2a2a2a" stroke-width="0.65"/>
<ellipse cx="350.85" cy="225.64" rx="1.7" ry="1.2" fill="none" stroke="#2a2a2a" stroke-width="0.65"/>
<ellipse cx="350.85" cy="231.09" rx="1.7" ry="1.2" fill="none" stroke="#2a2a2a" stroke-width="0.65"/>
<ellipse cx="350.85" cy="233.68" rx="1.7" ry="1.2" fill="none" stroke="#2a2a2a" stroke-width="0.65"/>
<ellipse cx="350.85" cy="243.62" rx="1.7" ry="1.2" fill="none" stroke="#2a2a2a" stroke-width="0.65"/>
<ellipse cx="350.85" cy="246.56" rx="1.7" ry="1.2" fill="none" stroke="#2a2a2a" stroke-width="0.65"/>
<ellipse cx="350.85" cy="249.16" rx="1.7" ry="1.2" fill="none" stroke="#2a2a2a" stroke-width="0.65"/>
<ellipse cx="350.85" cy="251.32" rx="1.7" ry="1.2" fill="none" stroke="#2a2a2a" stroke-width="0.65"/>
<ellipse cx="350.85" cy="251.92" rx="1.45" ry="1.2" fill="none" stroke="#2a2a2a" stroke-width="0.65"/>
<ellipse cx="350.85" cy="252.53" rx="1.45" ry="1.2" fill="none" stroke="#2a2a2a" stroke-width="0.65"/>
<ellipse cx="350.85" cy="253.48" rx="1.7" ry="1.2" fill="none" stroke="#2a2a2a" stroke-width="0.65"/>
<ellipse cx="350.85" cy="260.48" rx="1.45" ry="1.2" fill="none" stroke="#2a2a2a" stroke-width="0.65"/>
<ellipse cx="350.85" cy="260.91" rx="1.45" ry="1.2" fill="none" stroke="#2a2a2a" stroke-width="0.65"/>
<ellipse cx="350.85" cy="261.35" rx="1.45" ry="1.2" fill="none" stroke="#2a2a2a" stroke-width="0.65"/>
<ellipse cx="350.85" cy="264.11" rx="1.7" ry="1.2" fill="none" stroke="#2a2a2a" stroke-width="0.65"/>
<ellipse cx="350.85" cy="265.15" rx="1.45" ry="1.2" fill="none" stroke="#2a2a2a" stroke-width="0.65"/>
<ellipse cx="350.85" cy="265.58" rx="1.7" ry="1.2" fill="none" stroke="#2a2a2a" stroke-width="0.65"/>
<ellipse cx="350.85" cy="266.71" rx="1.7" ry="1.2" fill="none" stroke="#2a2a2a" stroke-width="0.65"/>
<ellipse cx="350.85" cy="270.25" rx="1.7" ry="1.2" fill="none" stroke="#2a2a2a" stroke-width="0.65"/>
<ellipse cx="350.85" cy="273.36" rx="1.7" ry="1.2" fill="none" stroke="#2a2a2a" stroke-width="0.65"/>
<ellipse cx="350.85" cy="305.10" rx="1.45" ry="1.2" fill="none" stroke="#2a2a2a" stroke-width="0.65"/>
<ellipse cx="350.85" cy="304.66" rx="1.45" ry="1.2" fill="none" stroke="#2a2a2a" stroke-width="0.65"/>
<ellipse cx="350.85" cy="304.23" rx="1.45" ry="1.2" fill="none" stroke="#2a2a2a" stroke-width="0.65"/>
<ellipse cx="350.85" cy="303.80" rx="1.45" ry="1.2" fill="none" stroke="#2a2a2a" stroke-width="0.65"/>
<ellipse cx="350.85" cy="303.37" rx="1.45" ry="1.2" fill="none" stroke="#2a2a2a" stroke-width="0.65"/>
<ellipse cx="350.85" cy="302.93" rx="1.45" ry="1.2" fill="none" stroke="#2a2a2a" stroke-width="0.65"/>
<ellipse cx="350.85" cy="302.50" rx="1.45" ry="1.2" fill="none" stroke="#2a2a2a" stroke-width="0.65"/>
<ellipse cx="350.85" cy="302.07" rx="1.45" ry="1.2" fill="none" stroke="#2a2a2a" stroke-width="0.65"/>
<ellipse cx="350.85" cy="301.64" rx="1.45" ry="1.2" fill="none" stroke="#2a2a2a" stroke-width="0.65"/>
<ellipse cx="350.85" cy="301.20" rx="1.45" ry="1.2" fill="none" stroke="#2a2a2a" stroke-width="0.65"/>
<ellipse cx="350.85" cy="300.77" rx="1.45" ry="1.2" fill="none" stroke="#2a2a2a" stroke-width="0.65"/>
<ellipse cx="350.85" cy="300.34" rx="1.45" ry="1.2" fill="none" stroke="#2a2a2a" stroke-width="0.65"/>
<ellipse cx="350.85" cy="299.91" rx="1.45" ry="1.2" fill="none" stroke="#2a2a2a" stroke-width="0.65"/>
<ellipse cx="350.85" cy="299.48" rx="1.45" ry="1.2" fill="none" stroke="#2a2a2a" stroke-width="0.65"/>
<ellipse cx="350.85" cy="299.04" rx="1.45" ry="1.2" fill="none" stroke="#2a2a2a" stroke-width="0.65"/>
<ellipse cx="350.85" cy="298.61" rx="1.45" ry="1.2" fill="none" stroke="#2a2a2a" stroke-width="0.65"/>
<ellipse cx="350.85" cy="298.18" rx="1.45" ry="1.2" fill="none" stroke="#2a2a2a" stroke-width="0.65"/>
<ellipse cx="350.85" cy="297.75" rx="1.45" ry="1.2" fill="none" stroke="#2a2a2a" stroke-width="0.65"/>
<ellipse cx="350.85" cy="297.31" rx="1.45" ry="1.2" fill="none" stroke="#2a2a2a" stroke-width="0.65"/>
<ellipse cx="350.85" cy="296.88" rx="1.45" ry="1.2" fill="none" stroke="#2a2a2a" stroke-width="0.65"/>
<ellipse cx="350.85" cy="296.45" rx="1.45" ry="1.2" fill="none" stroke="#2a2a2a" stroke-width="0.65"/>
<ellipse cx="350.85" cy="296.02" rx="1.45" ry="1.2" fill="none" stroke="#2a2a2a" stroke-width="0.65"/>
<ellipse cx="350.85" cy="295.58" rx="1.45" ry="1.2" fill="none" stroke="#2a2a2a" stroke-width="0.65"/>
<ellipse cx="350.85" cy="295.15" rx="1.45" ry="1.2" fill="none" stroke="#2a2a2a" stroke-width="0.65"/>
<ellipse cx="350.85" cy="294.72" rx="1.45" ry="1.2" fill="none" stroke="#2a2a2a" stroke-width="0.65"/>
<ellipse cx="350.85" cy="294.29" rx="1.45" ry="1.2" fill="none" stroke="#2a2a2a" stroke-width="0.65"/>
<ellipse cx="350.85" cy="293.86" rx="1.45" ry="1.2" fill="none" stroke="#2a2a2a" stroke-width="0.65"/>
<ellipse cx="350.85" cy="293.42" rx="1.45" ry="1.2" fill="none" stroke="#2a2a2a" stroke-width="0.65"/>
<ellipse cx="350.85" cy="292.99" rx="1.45" ry="1.2" fill="none" stroke="#2a2a2a" stroke-width="0.65"/>
<ellipse cx="350.85" cy="292.56" rx="1.45" ry="1.2" fill="none" stroke="#2a2a2a" stroke-width="0.65"/>
<ellipse cx="350.85" cy="292.13" rx="1.45" ry="1.2" fill="none" stroke="#2a2a2a" stroke-width="0.65"/>
<ellipse cx="350.85" cy="291.69" rx="1.45" ry="1.2" fill="none" stroke="#2a2a2a" stroke-width="0.65"/>
<ellipse cx="350.85" cy="291.26" rx="1.45" ry="1.2" fill="none" stroke="#2a2a2a" stroke-width="0.65"/>
<ellipse cx="350.85" cy="290.83" rx="1.45" ry="1.2" fill="none" stroke="#2a2a2a" stroke-width="0.65"/>
<ellipse cx="350.85" cy="290.40" rx="1.45" ry="1.2" fill="none" stroke="#2a2a2a" stroke-width="0.65"/>
<ellipse cx="350.85" cy="289.97" rx="1.45" ry="1.2" fill="none" stroke="#2a2a2a" stroke-width="0.65"/>
<ellipse cx="350.85" cy="289.53" rx="1.45" ry="1.2" fill="none" stroke="#2a2a2a" stroke-width="0.65"/>
<ellipse cx="350.85" cy="289.10" rx="1.45" ry="1.2" fill="none" stroke="#2a2a2a" stroke-width="0.65"/>
<ellipse cx="350.85" cy="288.67" rx="1.45" ry="1.2" fill="none" stroke="#2a2a2a" stroke-width="0.65"/>
<ellipse cx="350.85" cy="288.24" rx="1.45" ry="1.2" fill="none" stroke="#2a2a2a" stroke-width="0.65"/>
<ellipse cx="350.85" cy="287.80" rx="1.45" ry="1.2" fill="none" stroke="#2a2a2a" stroke-width="0.65"/>
<ellipse cx="350.85" cy="287.37" rx="1.45" ry="1.2" fill="none" stroke="#2a2a2a" stroke-width="0.65"/>
<ellipse cx="350.85" cy="286.94" rx="1.45" ry="1.2" fill="none" stroke="#2a2a2a" stroke-width="0.65"/>
<ellipse cx="350.85" cy="286.51" rx="1.45" ry="1.2" fill="none" stroke="#2a2a2a" stroke-width="0.65"/>
<ellipse cx="350.85" cy="286.07" rx="1.45" ry="1.2" fill="none" stroke="#2a2a2a" stroke-width="0.65"/>
<ellipse cx="350.85" cy="285.64" rx="1.45" ry="1.2" fill="none" stroke="#2a2a2a" stroke-width="0.65"/>
<ellipse cx="350.85" cy="285.21" rx="1.45" ry="1.2" fill="none" stroke="#2a2a2a" stroke-width="0.65"/>
<ellipse cx="350.85" cy="284.78" rx="1.45" ry="1.2" fill="none" stroke="#2a2a2a" stroke-width="0.65"/>
<ellipse cx="350.85" cy="284.35" rx="1.45" ry="1.2" fill="none" stroke="#2a2a2a" stroke-width="0.65"/>
<ellipse cx="350.85" cy="283.91" rx="1.45" ry="1.2" fill="none" stroke="#2a2a2a" stroke-width="0.65"/>
<ellipse cx="350.85" cy="283.48" rx="1.45" ry="1.2" fill="none" stroke="#2a2a2a" stroke-width="0.65"/>
<ellipse cx="350.85" cy="283.05" rx="1.45" ry="1.2" fill="none" stroke="#2a2a2a" stroke-width="0.65"/>
<ellipse cx="350.85" cy="282.62" rx="1.45" ry="1.2" fill="none" stroke="#2a2a2a" stroke-width="0.65"/>
<ellipse cx="350.85" cy="282.18" rx="1.45" ry="1.2" fill="none" stroke="#2a2a2a" stroke-width="0.65"/>
<ellipse cx="350.85" cy="281.75" rx="1.45" ry="1.2" fill="none" stroke="#2a2a2a" stroke-width="0.65"/>
<ellipse cx="350.85" cy="281.32" rx="1.45" ry="1.2" fill="none" stroke="#2a2a2a" stroke-width="0.65"/>
<ellipse cx="350.85" cy="280.89" rx="1.45" ry="1.2" fill="none" stroke="#2a2a2a" stroke-width="0.65"/>
<ellipse cx="350.85" cy="280.45" rx="1.45" ry="1.2" fill="none" stroke="#2a2a2a" stroke-width="0.65"/>
<ellipse cx="350.85" cy="280.02" rx="1.45" ry="1.2" fill="none" stroke="#2a2a2a" stroke-width="0.65"/>
<ellipse cx="350.85" cy="279.59" rx="1.45" ry="1.2" fill="none" stroke="#2a2a2a" stroke-width="0.65"/>
<ellipse cx="350.85" cy="279.16" rx="1.45" ry="1.2" fill="none" stroke="#2a2a2a" stroke-width="0.65"/>
<ellipse cx="350.85" cy="278.73" rx="1.45" ry="1.2" fill="none" stroke="#2a2a2a" stroke-width="0.65"/>
<ellipse cx="350.85" cy="278.29" rx="1.45" ry="1.2" fill="none" stroke="#2a2a2a" stroke-width="0.65"/>
<ellipse cx="350.85" cy="277.86" rx="1.45" ry="1.2" fill="none" stroke="#2a2a2a" stroke-width="0.65"/>
<ellipse cx="350.85" cy="277.43" rx="1.45" ry="1.2" fill="none" stroke="#2a2a2a" stroke-width="0.65"/>
<ellipse cx="350.85" cy="277.00" rx="1.45" ry="1.2" fill="none" stroke="#2a2a2a" stroke-width="0.65"/>
<ellipse cx="350.85" cy="276.56" rx="1.45" ry="1.2" fill="none" stroke="#2a2a2a" stroke-width="0.65"/>
<ellipse cx="350.85" cy="276.13" rx="1.45" ry="1.2" fill="none" stroke="#2a2a2a" stroke-width="0.65"/>
<text class="t" x="350.85" y="333.6" text-anchor="middle">constant</text>
<path d="M417.62 311.67V300.51M412.53 300.51H422.70M417.62 319.97V320.83M412.53 320.83H422.70" stroke="#222" stroke-width="0.6" fill="none"/>
<rect x="407.45" y="311.67" width="20.33" height="8.30" fill="#fbfbfd" stroke="#666" stroke-width="0.65"/>
<line x1="407.75" x2="427.48" y1="318.67" y2="318.67" stroke="#9ad3b1" stroke-width="1.1"/>
<ellipse cx="417.62" cy="196.33" rx="1.7" ry="1.2" fill="none" stroke="#2a2a2a" stroke-width="0.65"/>
<ellipse cx="417.62" cy="200.48" rx="1.7" ry="1.2" fill="none" stroke="#2a2a2a" stroke-width="0.65"/>
<ellipse cx="417.62" cy="215.44" rx="1.7" ry="1.2" fill="none" stroke="#2a2a2a" stroke-width="0.65"/>
<ellipse cx="417.62" cy="225.64" rx="1.7" ry="1.2" fill="none" stroke="#2a2a2a" stroke-width="0.65"/>
<ellipse cx="417.62" cy="231.09" rx="1.7" ry="1.2" fill="none" stroke="#2a2a2a" stroke-width="0.65"/>
<ellipse cx="417.62" cy="233.68" rx="1.7" ry="1.2" fill="none" stroke="#2a2a2a" stroke-width="0.65"/>
<ellipse cx="417.62" cy="244.14" rx="1.7" ry="1.2" fill="none" stroke="#2a2a2a" stroke-width="0.65"/>
<ellipse cx="417.62" cy="246.56" rx="1.7" ry="1.2" fill="none" stroke="#2a2a2a" stroke-width="0.65"/>
<ellipse cx="417.62" cy="249.16" rx="1.7" ry="1.2" fill="none" stroke="#2a2a2a" stroke-width="0.65"/>
<ellipse cx="417.62" cy="251.32" rx="1.7" ry="1.2" fill="none" stroke="#2a2a2a" stroke-width="0.65"/>
<ellipse cx="417.62" cy="251.92" rx="1.45" ry="1.2" fill="none" stroke="#2a2a2a" stroke-width="0.65"/>
<ellipse cx="417.62" cy="252.53" rx="1.45" ry="1.2" fill="none" stroke="#2a2a2a" stroke-width="0.65"/>
<ellipse cx="417.62" cy="253.48" rx="1.7" ry="1.2" fill="none" stroke="#2a2a2a" stroke-width="0.65"/>
<ellipse cx="417.62" cy="257.80" rx="1.7" ry="1.2" fill="none" stroke="#2a2a2a" stroke-width="0.65"/>
<ellipse cx="417.62" cy="260.40" rx="1.45" ry="1.2" fill="none" stroke="#2a2a2a" stroke-width="0.65"/>
<ellipse cx="417.62" cy="260.83" rx="1.45" ry="1.2" fill="none" stroke="#2a2a2a" stroke-width="0.65"/>
<ellipse cx="417.62" cy="261.26" rx="1.45" ry="1.2" fill="none" stroke="#2a2a2a" stroke-width="0.65"/>
<ellipse cx="417.62" cy="262.56" rx="1.7" ry="1.2" fill="none" stroke="#2a2a2a" stroke-width="0.65"/>
<ellipse cx="417.62" cy="265.15" rx="1.7" ry="1.2" fill="none" stroke="#2a2a2a" stroke-width="0.65"/>
<ellipse cx="417.62" cy="265.58" rx="1.7" ry="1.2" fill="none" stroke="#2a2a2a" stroke-width="0.65"/>
<ellipse cx="417.62" cy="267.74" rx="1.7" ry="1.2" fill="none" stroke="#2a2a2a" stroke-width="0.65"/>
<ellipse cx="417.62" cy="270.34" rx="1.7" ry="1.2" fill="none" stroke="#2a2a2a" stroke-width="0.65"/>
<ellipse cx="417.62" cy="272.93" rx="1.7" ry="1.2" fill="none" stroke="#2a2a2a" stroke-width="0.65"/>
<ellipse cx="417.62" cy="275.53" rx="1.7" ry="1.2" fill="none" stroke="#2a2a2a" stroke-width="0.65"/>
<ellipse cx="417.62" cy="299.30" rx="1.45" ry="1.2" fill="none" stroke="#2a2a2a" stroke-width="0.65"/>
<ellipse cx="417.62" cy="298.87" rx="1.45" ry="1.2" fill="none" stroke="#2a2a2a" stroke-width="0.65"/>
<ellipse cx="417.62" cy="298.44" rx="1.45" ry="1.2" fill="none" stroke="#2a2a2a" stroke-width="0.65"/>
<ellipse cx="417.62" cy="298.01" rx="1.45" ry="1.2" fill="none" stroke="#2a2a2a" stroke-width="0.65"/>
<ellipse cx="417.62" cy="297.57" rx="1.45" ry="1.2" fill="none" stroke="#2a2a2a" stroke-width="0.65"/>
<ellipse cx="417.62" cy="297.14" rx="1.45" ry="1.2" fill="none" stroke="#2a2a2a" stroke-width="0.65"/>
<ellipse cx="417.62" cy="296.71" rx="1.45" ry="1.2" fill="none" stroke="#2a2a2a" stroke-width="0.65"/>
<ellipse cx="417.62" cy="296.28" rx="1.45" ry="1.2" fill="none" stroke="#2a2a2a" stroke-width="0.65"/>
<ellipse cx="417.62" cy="295.84" rx="1.45" ry="1.2" fill="none" stroke="#2a2a2a" stroke-width="0.65"/>
<ellipse cx="417.62" cy="295.41" rx="1.45" ry="1.2" fill="none" stroke="#2a2a2a" stroke-width="0.65"/>
<ellipse cx="417.62" cy="294.98" rx="1.45" ry="1.2" fill="none" stroke="#2a2a2a" stroke-width="0.65"/>
<ellipse cx="417.62" cy="294.55" rx="1.45" ry="1.2" fill="none" stroke="#2a2a2a" stroke-width="0.65"/>
<ellipse cx="417.62" cy="294.12" rx="1.45" ry="1.2" fill="none" stroke="#2a2a2a" stroke-width="0.65"/>
<ellipse cx="417.62" cy="293.68" rx="1.45" ry="1.2" fill="none" stroke="#2a2a2a" stroke-width="0.65"/>
<ellipse cx="417.62" cy="293.25" rx="1.45" ry="1.2" fill="none" stroke="#2a2a2a" stroke-width="0.65"/>
<ellipse cx="417.62" cy="292.82" rx="1.45" ry="1.2" fill="none" stroke="#2a2a2a" stroke-width="0.65"/>
<ellipse cx="417.62" cy="292.39" rx="1.45" ry="1.2" fill="none" stroke="#2a2a2a" stroke-width="0.65"/>
<ellipse cx="417.62" cy="291.95" rx="1.45" ry="1.2" fill="none" stroke="#2a2a2a" stroke-width="0.65"/>
<ellipse cx="417.62" cy="291.52" rx="1.45" ry="1.2" fill="none" stroke="#2a2a2a" stroke-width="0.65"/>
<ellipse cx="417.62" cy="291.09" rx="1.45" ry="1.2" fill="none" stroke="#2a2a2a" stroke-width="0.65"/>
<ellipse cx="417.62" cy="290.66" rx="1.45" ry="1.2" fill="none" stroke="#2a2a2a" stroke-width="0.65"/>
<ellipse cx="417.62" cy="290.22" rx="1.45" ry="1.2" fill="none" stroke="#2a2a2a" stroke-width="0.65"/>
<ellipse cx="417.62" cy="289.79" rx="1.45" ry="1.2" fill="none" stroke="#2a2a2a" stroke-width="0.65"/>
<ellipse cx="417.62" cy="289.36" rx="1.45" ry="1.2" fill="none" stroke="#2a2a2a" stroke-width="0.65"/>
<ellipse cx="417.62" cy="288.93" rx="1.45" ry="1.2" fill="none" stroke="#2a2a2a" stroke-width="0.65"/>
<ellipse cx="417.62" cy="288.50" rx="1.45" ry="1.2" fill="none" stroke="#2a2a2a" stroke-width="0.65"/>
<ellipse cx="417.62" cy="288.06" rx="1.45" ry="1.2" fill="none" stroke="#2a2a2a" stroke-width="0.65"/>
<ellipse cx="417.62" cy="287.63" rx="1.45" ry="1.2" fill="none" stroke="#2a2a2a" stroke-width="0.65"/>
<ellipse cx="417.62" cy="287.20" rx="1.45" ry="1.2" fill="none" stroke="#2a2a2a" stroke-width="0.65"/>
<ellipse cx="417.62" cy="286.77" rx="1.45" ry="1.2" fill="none" stroke="#2a2a2a" stroke-width="0.65"/>
<ellipse cx="417.62" cy="286.33" rx="1.45" ry="1.2" fill="none" stroke="#2a2a2a" stroke-width="0.65"/>
<ellipse cx="417.62" cy="285.90" rx="1.45" ry="1.2" fill="none" stroke="#2a2a2a" stroke-width="0.65"/>
<ellipse cx="417.62" cy="285.47" rx="1.45" ry="1.2" fill="none" stroke="#2a2a2a" stroke-width="0.65"/>
<ellipse cx="417.62" cy="285.04" rx="1.45" ry="1.2" fill="none" stroke="#2a2a2a" stroke-width="0.65"/>
<ellipse cx="417.62" cy="284.60" rx="1.45" ry="1.2" fill="none" stroke="#2a2a2a" stroke-width="0.65"/>
<ellipse cx="417.62" cy="284.17" rx="1.45" ry="1.2" fill="none" stroke="#2a2a2a" stroke-width="0.65"/>
<ellipse cx="417.62" cy="283.74" rx="1.45" ry="1.2" fill="none" stroke="#2a2a2a" stroke-width="0.65"/>
<ellipse cx="417.62" cy="283.31" rx="1.45" ry="1.2" fill="none" stroke="#2a2a2a" stroke-width="0.65"/>
<ellipse cx="417.62" cy="282.88" rx="1.45" ry="1.2" fill="none" stroke="#2a2a2a" stroke-width="0.65"/>
<ellipse cx="417.62" cy="282.44" rx="1.45" ry="1.2" fill="none" stroke="#2a2a2a" stroke-width="0.65"/>
<ellipse cx="417.62" cy="282.01" rx="1.45" ry="1.2" fill="none" stroke="#2a2a2a" stroke-width="0.65"/>
<ellipse cx="417.62" cy="281.58" rx="1.45" ry="1.2" fill="none" stroke="#2a2a2a" stroke-width="0.65"/>
<ellipse cx="417.62" cy="281.15" rx="1.45" ry="1.2" fill="none" stroke="#2a2a2a" stroke-width="0.65"/>
<ellipse cx="417.62" cy="280.71" rx="1.45" ry="1.2" fill="none" stroke="#2a2a2a" stroke-width="0.65"/>
<ellipse cx="417.62" cy="280.28" rx="1.45" ry="1.2" fill="none" stroke="#2a2a2a" stroke-width="0.65"/>
<ellipse cx="417.62" cy="279.85" rx="1.45" ry="1.2" fill="none" stroke="#2a2a2a" stroke-width="0.65"/>
<ellipse cx="417.62" cy="279.42" rx="1.45" ry="1.2" fill="none" stroke="#2a2a2a" stroke-width="0.65"/>
<ellipse cx="417.62" cy="278.98" rx="1.45" ry="1.2" fill="none" stroke="#2a2a2a" stroke-width="0.65"/>
<ellipse cx="417.62" cy="278.55" rx="1.45" ry="1.2" fill="none" stroke="#2a2a2a" stroke-width="0.65"/>
<ellipse cx="417.62" cy="278.12" rx="1.45" ry="1.2" fill="none" stroke="#2a2a2a" stroke-width="0.65"/>
<ellipse cx="417.62" cy="277.69" rx="1.45" ry="1.2" fill="none" stroke="#2a2a2a" stroke-width="0.65"/>
<text class="t" x="417.62" y="333.6" text-anchor="middle">invscaling</text>
<text class="l" x="350.9" y="339.8" text-anchor="middle">learning_rate</text>
<text class="l" transform="translate(235.1 258.6) rotate(-90)" text-anchor="middle">duration (s)</text>
<text class="c" x="340.7" y="358.8" text-anchor="middle"><tspan class="b">(d)</tspan> learning_rate</text>
</g>
<g>
<rect x="21.4" y="377.3" width="200.3" height="136.7" fill="#eaeaf2"/>
<line x1="21.4" x2="221.7" y1="508.40" y2="508.40" stroke="#fff" stroke-width="0.6"/>
<text class="t" x="18.1" y="509.95" text-anchor="end">0</text>
<line x1="21.4" x2="221.7" y1="491.11" y2="491.11" stroke="#fff" stroke-width="0.6"/>
<text class="t" x="18.1" y="492.66" text-anchor="end">200</text>
<line x1="21.4" x2="221.7" y1="473.82" y2="473.82" stroke="#fff" stroke-width="0.6"/>
<text class="t" x="18.1" y="475.37" text-anchor="end">400</text>
<line x1="21.4" x2="221.7" y1="456.52" y2="456.52" stroke="#fff" stroke-width="0.6"/>
<text class="t" x="18.1" y="458.07" text-anchor="end">600</text>
<line x1="21.4" x2="221.7" y1="439.23" y2="439.23" stroke="#fff" stroke-width="0.6"/>
<text class="t" x="18.1" y="440.78" text-anchor="end">800</text>
<line x1="21.4" x2="221.7" y1="421.94" y2="421.94" stroke="#fff" stroke-width="0.6"/>
<text class="t" x="18.1" y="423.49" text-anchor="end">1000</text>
<line x1="21.4" x2="221.7" y1="404.65" y2="404.65" stroke="#fff" stroke-width="0.6"/>
<text class="t" x="18.1" y="406.20" text-anchor="end">1200</text>
<line x1="21.4" x2="221.7" y1="387.36" y2="387.36" stroke="#fff" stroke-width="0.6"/>
<text class="t" x="18.1" y="388.91" text-anchor="end">1400</text>
<line x1="71.47" x2="71.47" y1="377.3" y2="514.0" stroke="#fff" stroke-width="0.45"/>
<line x1="171.63" x2="171.63" y1="377.3" y2="514.0" stroke="#fff" stroke-width="0.45"/>
<path d="M71.47 499.84V489.21M67.47 489.21H75.48M71.47 506.58V507.45M67.47 507.45H75.48" stroke="#222" stroke-width="0.6" fill="none"/>
<rect x="63.46" y="499.84" width="16.02" height="6.74" fill="#fbfbfd" stroke="#666" stroke-width="0.65"/>
<line x1="63.76" x2="79.19" y1="504.77" y2="504.77" stroke="#9ad3b1" stroke-width="1.1"/>
<circle cx="71.47" cy="402.49" r="1.25" fill="none" stroke="#1a1a1a" stroke-width="0.85"/>
<circle cx="71.47" cy="418.14" r="1.25" fill="none" stroke="#1a1a1a" stroke-width="0.85"/>
<circle cx="71.47" cy="430.85" r="1.25" fill="none" stroke="#1a1a1a" stroke-width="0.85"/>
<circle cx="71.47" cy="433.44" r="1.25" fill="none" stroke="#1a1a1a" stroke-width="0.85"/>
<circle cx="71.47" cy="435.95" r="1.25" fill="none" stroke="#1a1a1a" stroke-width="0.85"/>
<circle cx="71.47" cy="437.85" r="1.25" fill="none" stroke="#1a1a1a" stroke-width="0.85"/>
<circle cx="71.47" cy="439.75" r="1.25" fill="none" stroke="#1a1a1a" stroke-width="0.85"/>
<circle cx="71.47" cy="446.93" r="1.25" fill="none" stroke="#1a1a1a" stroke-width="0.85"/>
<circle cx="71.47" cy="448.74" r="1.25" fill="none" stroke="#1a1a1a" stroke-width="0.85"/>
<circle cx="71.47" cy="451.34" r="1.25" fill="none" stroke="#1a1a1a" stroke-width="0.85"/>
<circle cx="71.47" cy="453.93" r="1.25" fill="none" stroke="#1a1a1a" stroke-width="0.85"/>
<circle cx="71.47" cy="456.52" r="1.25" fill="none" stroke="#1a1a1a" stroke-width="0.85"/>
<circle cx="71.47" cy="458.94" r="1.25" fill="none" stroke="#1a1a1a" stroke-width="0.85"/>
<circle cx="71.47" cy="461.28" r="1.25" fill="none" stroke="#1a1a1a" stroke-width="0.85"/>
<circle cx="71.47" cy="463.44" r="1.25" fill="none" stroke="#1a1a1a" stroke-width="0.85"/>
<circle cx="71.47" cy="465.60" r="1.25" fill="none" stroke="#1a1a1a" stroke-width="0.85"/>
<circle cx="71.47" cy="467.76" r="1.25" fill="none" stroke="#1a1a1a" stroke-width="0.85"/>
<circle cx="71.47" cy="469.93" r="1.25" fill="none" stroke="#1a1a1a" stroke-width="0.85"/>
<circle cx="71.47" cy="472.09" r="1.25" fill="none" stroke="#1a1a1a" stroke-width="0.85"/>
<circle cx="71.47" cy="473.99" r="1.25" fill="none" stroke="#1a1a1a" stroke-width="0.85"/>
<circle cx="71.47" cy="488.00" r="1.25" fill="none" stroke="#1a1a1a" stroke-width="0.85"/>
<circle cx="71.47" cy="487.22" r="1.05" fill="none" stroke="#1a1a1a" stroke-width="0.85"/>
<circle cx="71.47" cy="486.44" r="1.05" fill="none" stroke="#1a1a1a" stroke-width="0.85"/>
<circle cx="71.47" cy="485.66" r="1.05" fill="none" stroke="#1a1a1a" stroke-width="0.85"/>
<circle cx="71.47" cy="484.88" r="1.05" fill="none" stroke="#1a1a1a" stroke-width="0.85"/>
<circle cx="71.47" cy="484.10" r="1.05" fill="none" stroke="#1a1a1a" stroke-width="0.85"/>
<circle cx="71.47" cy="483.33" r="1.05" fill="none" stroke="#1a1a1a" stroke-width="0.85"/>
<circle cx="71.47" cy="482.55" r="1.05" fill="none" stroke="#1a1a1a" stroke-width="0.85"/>
<circle cx="71.47" cy="481.77" r="1.05" fill="none" stroke="#1a1a1a" stroke-width="0.85"/>
<circle cx="71.47" cy="480.99" r="1.05" fill="none" stroke="#1a1a1a" stroke-width="0.85"/>
<circle cx="71.47" cy="480.21" r="1.05" fill="none" stroke="#1a1a1a" stroke-width="0.85"/>
<circle cx="71.47" cy="479.44" r="1.05" fill="none" stroke="#1a1a1a" stroke-width="0.85"/>
<circle cx="71.47" cy="478.66" r="1.05" fill="none" stroke="#1a1a1a" stroke-width="0.85"/>
<circle cx="71.47" cy="477.88" r="1.05" fill="none" stroke="#1a1a1a" stroke-width="0.85"/>
<circle cx="71.47" cy="477.10" r="1.05" fill="none" stroke="#1a1a1a" stroke-width="0.85"/>
<circle cx="71.47" cy="476.32" r="1.05" fill="none" stroke="#1a1a1a" stroke-width="0.85"/>
<circle cx="71.47" cy="475.55" r="1.25" fill="none" stroke="#1a1a1a" stroke-width="0.85"/>
<text class="t" x="71.47" y="520.6" text-anchor="middle">200</text>
<path d="M171.63 497.07V482.72M167.62 482.72H175.63M171.63 506.67V507.71M167.62 507.71H175.63" stroke="#222" stroke-width="0.6" fill="none"/>
<rect x="163.61" y="497.07" width="16.02" height="9.60" fill="#fbfbfd" stroke="#666" stroke-width="0.65"/>
<line x1="163.91" x2="179.34" y1="504.77" y2="504.77" stroke="#9ad3b1" stroke-width="1.1"/>
<circle cx="171.63" cy="383.03" r="1.25" fill="none" stroke="#1a1a1a" stroke-width="0.85"/>
<circle cx="171.63" cy="387.27" r="1.25" fill="none" stroke="#1a1a1a" stroke-width="0.85"/>
<circle cx="171.63" cy="402.49" r="1.25" fill="none" stroke="#1a1a1a" stroke-width="0.85"/>
<circle cx="171.63" cy="412.60" r="1.25" fill="none" stroke="#1a1a1a" stroke-width="0.85"/>
<circle cx="171.63" cy="418.14" r="1.25" fill="none" stroke="#1a1a1a" stroke-width="0.85"/>
<circle cx="171.63" cy="420.90" r="1.25" fill="none" stroke="#1a1a1a" stroke-width="0.85"/>
<circle cx="171.63" cy="430.85" r="1.25" fill="none" stroke="#1a1a1a" stroke-width="0.85"/>
<circle cx="171.63" cy="433.44" r="1.25" fill="none" stroke="#1a1a1a" stroke-width="0.85"/>
<circle cx="171.63" cy="436.64" r="1.25" fill="none" stroke="#1a1a1a" stroke-width="0.85"/>
<circle cx="171.63" cy="439.75" r="1.25" fill="none" stroke="#1a1a1a" stroke-width="0.85"/>
<circle cx="171.63" cy="441.57" r="1.25" fill="none" stroke="#1a1a1a" stroke-width="0.85"/>
<circle cx="171.63" cy="445.98" r="1.25" fill="none" stroke="#1a1a1a" stroke-width="0.85"/>
<circle cx="171.63" cy="448.74" r="1.25" fill="none" stroke="#1a1a1a" stroke-width="0.85"/>
<circle cx="171.63" cy="451.77" r="1.25" fill="none" stroke="#1a1a1a" stroke-width="0.85"/>
<circle cx="171.63" cy="454.62" r="1.25" fill="none" stroke="#1a1a1a" stroke-width="0.85"/>
<circle cx="171.63" cy="457.39" r="1.25" fill="none" stroke="#1a1a1a" stroke-width="0.85"/>
<circle cx="171.63" cy="459.98" r="1.25" fill="none" stroke="#1a1a1a" stroke-width="0.85"/>
<circle cx="171.63" cy="481.60" r="1.25" fill="none" stroke="#1a1a1a" stroke-width="0.85"/>
<circle cx="171.63" cy="480.73" r="1.05" fill="none" stroke="#1a1a1a" stroke-width="0.85"/>
<circle cx="171.63" cy="479.87" r="1.05" fill="none" stroke="#1a1a1a" stroke-width="0.85"/>
<circle cx="171.63" cy="479.00" r="1.05" fill="none" stroke="#1a1a1a" stroke-width="0.85"/>
<circle cx="171.63" cy="478.14" r="1.05" fill="none" stroke="#1a1a1a" stroke-width="0.85"/>
<circle cx="171.63" cy="477.27" r="1.05" fill="none" stroke="#1a1a1a" stroke-width="0.85"/>
<circle cx="171.63" cy="476.41" r="1.05" fill="none" stroke="#1a1a1a" stroke-width="0.85"/>
<circle cx="171.63" cy="475.55" r="1.05" fill="none" stroke="#1a1a1a" stroke-width="0.85"/>
<circle cx="171.63" cy="474.68" r="1.05" fill="none" stroke="#1a1a1a" stroke-width="0.85"/>
<circle cx="171.63" cy="473.82" r="1.05" fill="none" stroke="#1a1a1a" stroke-width="0.85"/>
<circle cx="171.63" cy="472.95" r="1.05" fill="none" stroke="#1a1a1a" stroke-width="0.85"/>
<circle cx="171.63" cy="472.09" r="1.05" fill="none" stroke="#1a1a1a" stroke-width="0.85"/>
<circle cx="171.63" cy="471.22" r="1.05" fill="none" stroke="#1a1a1a" stroke-width="0.85"/>
<circle cx="171.63" cy="470.36" r="1.05" fill="none" stroke="#1a1a1a" stroke-width="0.85"/>
<circle cx="171.63" cy="469.49" r="1.05" fill="none" stroke="#1a1a1a" stroke-width="0.85"/>
<circle cx="171.63" cy="468.63" r="1.05" fill="none" stroke="#1a1a1a" stroke-width="0.85"/>
<circle cx="171.63" cy="467.76" r="1.05" fill="none" stroke="#1a1a1a" stroke-width="0.85"/>
<circle cx="171.63" cy="466.90" r="1.05" fill="none" stroke="#1a1a1a" stroke-width="0.85"/>
<circle cx="171.63" cy="466.03" r="1.05" fill="none" stroke="#1a1a1a" stroke-width="0.85"/>
<circle cx="171.63" cy="465.17" r="1.05" fill="none" stroke="#1a1a1a" stroke-width="0.85"/>
<circle cx="171.63" cy="464.31" r="1.05" fill="none" stroke="#1a1a1a" stroke-width="0.85"/>
<circle cx="171.63" cy="463.44" r="1.05" fill="none" stroke="#1a1a1a" stroke-width="0.85"/>
<circle cx="171.63" cy="462.58" r="1.25" fill="none" stroke="#1a1a1a" stroke-width="0.85"/>
<text class="t" x="171.63" y="520.6" text-anchor="middle">400</text>
<text class="l" x="121.6" y="526.9" text-anchor="middle">max_iterations</text>
<text class="l" transform="translate(5.8 445.6) rotate(-90)" text-anchor="middle">duration (s)</text>
<text class="c" x="111.8" y="545.8" text-anchor="middle"><tspan class="b">(e)</tspan> max_iteration</text>
</g>
<g>
<rect x="250.7" y="377.3" width="200.3" height="136.7" fill="#eaeaf2"/>
<line x1="250.7" x2="451.0" y1="508.40" y2="508.40" stroke="#fff" stroke-width="0.6"/>
<text class="t" x="247.4" y="509.95" text-anchor="end">0</text>
<line x1="250.7" x2="451.0" y1="491.11" y2="491.11" stroke="#fff" stroke-width="0.6"/>
<text class="t" x="247.4" y="492.66" text-anchor="end">200</text>
<line x1="250.7" x2="451.0" y1="473.82" y2="473.82" stroke="#fff" stroke-width="0.6"/>
<text class="t" x="247.4" y="475.37" text-anchor="end">400</text>
<line x1="250.7" x2="451.0" y1="456.52" y2="456.52" stroke="#fff" stroke-width="0.6"/>
<text class="t" x="247.4" y="458.07" text-anchor="end">600</text>
<line x1="250.7" x2="451.0" y1="439.23" y2="439.23" stroke="#fff" stroke-width="0.6"/>
<text class="t" x="247.4" y="440.78" text-anchor="end">800</text>
<line x1="250.7" x2="451.0" y1="421.94" y2="421.94" stroke="#fff" stroke-width="0.6"/>
<text class="t" x="247.4" y="423.49" text-anchor="end">1000</text>
<line x1="250.7" x2="451.0" y1="404.65" y2="404.65" stroke="#fff" stroke-width="0.6"/>
<text class="t" x="247.4" y="406.20" text-anchor="end">1200</text>
<line x1="250.7" x2="451.0" y1="387.36" y2="387.36" stroke="#fff" stroke-width="0.6"/>
<text class="t" x="247.4" y="388.91" text-anchor="end">1400</text>
<line x1="284.08" x2="284.08" y1="377.3" y2="514.0" stroke="#fff" stroke-width="0.45"/>
<line x1="350.85" x2="350.85" y1="377.3" y2="514.0" stroke="#fff" stroke-width="0.45"/>
<line x1="417.62" x2="417.62" y1="377.3" y2="514.0" stroke="#fff" stroke-width="0.45"/>
<path d="M284.08 492.66V475.03M279.00 475.03H289.17M284.08 505.03V506.67M279.00 506.67H289.17" stroke="#222" stroke-width="0.6" fill="none"/>
<rect x="273.92" y="492.66" width="20.33" height="12.36" fill="#fbfbfd" stroke="#666" stroke-width="0.65"/>
<line x1="274.22" x2="293.95" y1="504.68" y2="504.68" stroke="#9ad3b1" stroke-width="1.1"/>
<ellipse cx="284.08" cy="383.03" rx="1.6" ry="1.45" fill="none" stroke="#2a2a2a" stroke-width="0.65"/>
<ellipse cx="284.08" cy="387.27" rx="1.6" ry="1.45" fill="none" stroke="#2a2a2a" stroke-width="0.65"/>
<ellipse cx="284.08" cy="402.49" rx="1.6" ry="1.45" fill="none" stroke="#2a2a2a" stroke-width="0.65"/>
<ellipse cx="284.08" cy="412.60" rx="1.6" ry="1.45" fill="none" stroke="#2a2a2a" stroke-width="0.65"/>
<ellipse cx="284.08" cy="418.14" rx="1.6" ry="1.45" fill="none" stroke="#2a2a2a" stroke-width="0.65"/>
<ellipse cx="284.08" cy="420.90" rx="1.6" ry="1.45" fill="none" stroke="#2a2a2a" stroke-width="0.65"/>
<ellipse cx="284.08" cy="430.85" rx="1.6" ry="1.45" fill="none" stroke="#2a2a2a" stroke-width="0.65"/>
<ellipse cx="284.08" cy="433.44" rx="1.6" ry="1.45" fill="none" stroke="#2a2a2a" stroke-width="0.65"/>
<ellipse cx="284.08" cy="435.95" rx="1.6" ry="1.45" fill="none" stroke="#2a2a2a" stroke-width="0.65"/>
<ellipse cx="284.08" cy="437.85" rx="1.6" ry="1.45" fill="none" stroke="#2a2a2a" stroke-width="0.65"/>
<ellipse cx="284.08" cy="439.75" rx="1.6" ry="1.45" fill="none" stroke="#2a2a2a" stroke-width="0.65"/>
<ellipse cx="284.08" cy="441.57" rx="1.6" ry="1.45" fill="none" stroke="#2a2a2a" stroke-width="0.65"/>
<ellipse cx="284.08" cy="447.01" rx="1.6" ry="1.45" fill="none" stroke="#2a2a2a" stroke-width="0.65"/>
<ellipse cx="284.08" cy="447.62" rx="1.6" ry="1.45" fill="none" stroke="#2a2a2a" stroke-width="0.65"/>
<ellipse cx="284.08" cy="450.13" rx="1.6" ry="1.45" fill="none" stroke="#2a2a2a" stroke-width="0.65"/>
<ellipse cx="284.08" cy="450.82" rx="1.6" ry="1.45" fill="none" stroke="#2a2a2a" stroke-width="0.65"/>
<ellipse cx="284.08" cy="452.72" rx="1.6" ry="1.45" fill="none" stroke="#2a2a2a" stroke-width="0.65"/>
<ellipse cx="284.08" cy="453.41" rx="1.6" ry="1.45" fill="none" stroke="#2a2a2a" stroke-width="0.65"/>
<ellipse cx="284.08" cy="456.87" rx="1.6" ry="1.45" fill="none" stroke="#2a2a2a" stroke-width="0.65"/>
<ellipse cx="284.08" cy="461.02" rx="1.6" ry="1.45" fill="none" stroke="#2a2a2a" stroke-width="0.65"/>
<ellipse cx="284.08" cy="473.82" rx="1.35" ry="1.45" fill="none" stroke="#2a2a2a" stroke-width="0.65"/>
<ellipse cx="284.08" cy="473.38" rx="1.35" ry="1.45" fill="none" stroke="#2a2a2a" stroke-width="0.65"/>
<ellipse cx="284.08" cy="472.95" rx="1.35" ry="1.45" fill="none" stroke="#2a2a2a" stroke-width="0.65"/>
<ellipse cx="284.08" cy="472.52" rx="1.35" ry="1.45" fill="none" stroke="#2a2a2a" stroke-width="0.65"/>
<ellipse cx="284.08" cy="472.09" rx="1.35" ry="1.45" fill="none" stroke="#2a2a2a" stroke-width="0.65"/>
<ellipse cx="284.08" cy="471.65" rx="1.35" ry="1.45" fill="none" stroke="#2a2a2a" stroke-width="0.65"/>
<ellipse cx="284.08" cy="471.22" rx="1.35" ry="1.45" fill="none" stroke="#2a2a2a" stroke-width="0.65"/>
<ellipse cx="284.08" cy="470.79" rx="1.35" ry="1.45" fill="none" stroke="#2a2a2a" stroke-width="0.65"/>
<ellipse cx="284.08" cy="470.36" rx="1.35" ry="1.45" fill="none" stroke="#2a2a2a" stroke-width="0.65"/>
<ellipse cx="284.08" cy="469.93" rx="1.35" ry="1.45" fill="none" stroke="#2a2a2a" stroke-width="0.65"/>
<ellipse cx="284.08" cy="469.49" rx="1.35" ry="1.45" fill="none" stroke="#2a2a2a" stroke-width="0.65"/>
<ellipse cx="284.08" cy="469.06" rx="1.35" ry="1.45" fill="none" stroke="#2a2a2a" stroke-width="0.65"/>
<ellipse cx="284.08" cy="468.63" rx="1.35" ry="1.45" fill="none" stroke="#2a2a2a" stroke-width="0.65"/>
<ellipse cx="284.08" cy="468.20" rx="1.35" ry="1.45" fill="none" stroke="#2a2a2a" stroke-width="0.65"/>
<ellipse cx="284.08" cy="467.76" rx="1.35" ry="1.45" fill="none" stroke="#2a2a2a" stroke-width="0.65"/>
<ellipse cx="284.08" cy="467.33" rx="1.35" ry="1.45" fill="none" stroke="#2a2a2a" stroke-width="0.65"/>
<ellipse cx="284.08" cy="466.90" rx="1.35" ry="1.45" fill="none" stroke="#2a2a2a" stroke-width="0.65"/>
<ellipse cx="284.08" cy="466.47" rx="1.35" ry="1.45" fill="none" stroke="#2a2a2a" stroke-width="0.65"/>
<ellipse cx="284.08" cy="466.03" rx="1.35" ry="1.45" fill="none" stroke="#2a2a2a" stroke-width="0.65"/>
<ellipse cx="284.08" cy="465.60" rx="1.35" ry="1.45" fill="none" stroke="#2a2a2a" stroke-width="0.65"/>
<ellipse cx="284.08" cy="465.17" rx="1.35" ry="1.45" fill="none" stroke="#2a2a2a" stroke-width="0.65"/>
<ellipse cx="284.08" cy="464.74" rx="1.35" ry="1.45" fill="none" stroke="#2a2a2a" stroke-width="0.65"/>
<ellipse cx="284.08" cy="464.31" rx="1.35" ry="1.45" fill="none" stroke="#2a2a2a" stroke-width="0.65"/>
<text class="t" x="284.08" y="520.6" text-anchor="middle">adam</text>
<path d="M350.85 502.26V493.01M345.77 493.01H355.93M350.85 507.28V507.28M345.77 507.28H355.93" stroke="#222" stroke-width="0.6" fill="none"/>
<rect x="340.69" y="502.26" width="20.33" height="5.01" fill="#fbfbfd" stroke="#666" stroke-width="0.65"/>
<line x1="340.99" x2="360.72" y1="507.02" y2="507.02" stroke="#9ad3b1" stroke-width="1.1"/>
<ellipse cx="350.85" cy="464.82" rx="1.6" ry="1.45" fill="none" stroke="#2a2a2a" stroke-width="0.65"/>
<ellipse cx="350.85" cy="466.03" rx="1.6" ry="1.45" fill="none" stroke="#2a2a2a" stroke-width="0.65"/>
<ellipse cx="350.85" cy="467.25" rx="1.6" ry="1.45" fill="none" stroke="#2a2a2a" stroke-width="0.65"/>
<ellipse cx="350.85" cy="468.46" rx="1.6" ry="1.45" fill="none" stroke="#2a2a2a" stroke-width="0.65"/>
<ellipse cx="350.85" cy="469.67" rx="1.6" ry="1.45" fill="none" stroke="#2a2a2a" stroke-width="0.65"/>
<ellipse cx="350.85" cy="476.06" rx="1.6" ry="1.45" fill="none" stroke="#2a2a2a" stroke-width="0.65"/>
<ellipse cx="350.85" cy="491.80" rx="1.35" ry="1.45" fill="none" stroke="#2a2a2a" stroke-width="0.65"/>
<ellipse cx="350.85" cy="491.37" rx="1.35" ry="1.45" fill="none" stroke="#2a2a2a" stroke-width="0.65"/>
<ellipse cx="350.85" cy="490.94" rx="1.35" ry="1.45" fill="none" stroke="#2a2a2a" stroke-width="0.65"/>
<ellipse cx="350.85" cy="490.50" rx="1.35" ry="1.45" fill="none" stroke="#2a2a2a" stroke-width="0.65"/>
<ellipse cx="350.85" cy="490.07" rx="1.35" ry="1.45" fill="none" stroke="#2a2a2a" stroke-width="0.65"/>
<ellipse cx="350.85" cy="489.64" rx="1.35" ry="1.45" fill="none" stroke="#2a2a2a" stroke-width="0.65"/>
<ellipse cx="350.85" cy="489.21" rx="1.35" ry="1.45" fill="none" stroke="#2a2a2a" stroke-width="0.65"/>
<ellipse cx="350.85" cy="488.77" rx="1.35" ry="1.45" fill="none" stroke="#2a2a2a" stroke-width="0.65"/>
<ellipse cx="350.85" cy="488.34" rx="1.35" ry="1.45" fill="none" stroke="#2a2a2a" stroke-width="0.65"/>
<ellipse cx="350.85" cy="487.91" rx="1.35" ry="1.45" fill="none" stroke="#2a2a2a" stroke-width="0.65"/>
<ellipse cx="350.85" cy="487.48" rx="1.35" ry="1.45" fill="none" stroke="#2a2a2a" stroke-width="0.65"/>
<ellipse cx="350.85" cy="487.04" rx="1.35" ry="1.45" fill="none" stroke="#2a2a2a" stroke-width="0.65"/>
<ellipse cx="350.85" cy="486.61" rx="1.35" ry="1.45" fill="none" stroke="#2a2a2a" stroke-width="0.65"/>
<ellipse cx="350.85" cy="486.18" rx="1.35" ry="1.45" fill="none" stroke="#2a2a2a" stroke-width="0.65"/>
<ellipse cx="350.85" cy="485.75" rx="1.35" ry="1.45" fill="none" stroke="#2a2a2a" stroke-width="0.65"/>
<ellipse cx="350.85" cy="485.32" rx="1.35" ry="1.45" fill="none" stroke="#2a2a2a" stroke-width="0.65"/>
<ellipse cx="350.85" cy="484.88" rx="1.35" ry="1.45" fill="none" stroke="#2a2a2a" stroke-width="0.65"/>
<ellipse cx="350.85" cy="484.45" rx="1.35" ry="1.45" fill="none" stroke="#2a2a2a" stroke-width="0.65"/>
<ellipse cx="350.85" cy="484.02" rx="1.35" ry="1.45" fill="none" stroke="#2a2a2a" stroke-width="0.65"/>
<ellipse cx="350.85" cy="483.59" rx="1.35" ry="1.45" fill="none" stroke="#2a2a2a" stroke-width="0.65"/>
<text class="t" x="350.85" y="520.6" text-anchor="middle">lbfgs</text>
<path d="M417.62 499.32V489.90M412.53 489.90H422.70M417.62 506.32V507.45M412.53 507.45H422.70" stroke="#222" stroke-width="0.6" fill="none"/>
<rect x="407.45" y="499.32" width="20.33" height="7.00" fill="#fbfbfd" stroke="#666" stroke-width="0.65"/>
<line x1="407.75" x2="427.48" y1="503.13" y2="503.13" stroke="#9ad3b1" stroke-width="1.1"/>
<ellipse cx="417.62" cy="446.06" rx="1.6" ry="1.45" fill="none" stroke="#2a2a2a" stroke-width="0.65"/>
<ellipse cx="417.62" cy="448.22" rx="1.6" ry="1.45" fill="none" stroke="#2a2a2a" stroke-width="0.65"/>
<ellipse cx="417.62" cy="456.09" rx="1.6" ry="1.45" fill="none" stroke="#2a2a2a" stroke-width="0.65"/>
<ellipse cx="417.62" cy="457.65" rx="1.6" ry="1.45" fill="none" stroke="#2a2a2a" stroke-width="0.65"/>
<ellipse cx="417.62" cy="459.12" rx="1.6" ry="1.45" fill="none" stroke="#2a2a2a" stroke-width="0.65"/>
<ellipse cx="417.62" cy="467.16" rx="1.6" ry="1.45" fill="none" stroke="#2a2a2a" stroke-width="0.65"/>
<ellipse cx="417.62" cy="469.67" rx="1.6" ry="1.45" fill="none" stroke="#2a2a2a" stroke-width="0.65"/>
<ellipse cx="417.62" cy="472.17" rx="1.6" ry="1.45" fill="none" stroke="#2a2a2a" stroke-width="0.65"/>
<ellipse cx="417.62" cy="474.16" rx="1.6" ry="1.45" fill="none" stroke="#2a2a2a" stroke-width="0.65"/>
<ellipse cx="417.62" cy="488.69" rx="1.35" ry="1.45" fill="none" stroke="#2a2a2a" stroke-width="0.65"/>
<ellipse cx="417.62" cy="488.25" rx="1.35" ry="1.45" fill="none" stroke="#2a2a2a" stroke-width="0.65"/>
<ellipse cx="417.62" cy="487.82" rx="1.35" ry="1.45" fill="none" stroke="#2a2a2a" stroke-width="0.65"/>
<ellipse cx="417.62" cy="487.39" rx="1.35" ry="1.45" fill="none" stroke="#2a2a2a" stroke-width="0.65"/>
<ellipse cx="417.62" cy="486.96" rx="1.35" ry="1.45" fill="none" stroke="#2a2a2a" stroke-width="0.65"/>
<ellipse cx="417.62" cy="486.53" rx="1.35" ry="1.45" fill="none" stroke="#2a2a2a" stroke-width="0.65"/>
<ellipse cx="417.62" cy="486.09" rx="1.35" ry="1.45" fill="none" stroke="#2a2a2a" stroke-width="0.65"/>
<ellipse cx="417.62" cy="485.66" rx="1.35" ry="1.45" fill="none" stroke="#2a2a2a" stroke-width="0.65"/>
<ellipse cx="417.62" cy="485.23" rx="1.35" ry="1.45" fill="none" stroke="#2a2a2a" stroke-width="0.65"/>
<ellipse cx="417.62" cy="484.80" rx="1.35" ry="1.45" fill="none" stroke="#2a2a2a" stroke-width="0.65"/>
<ellipse cx="417.62" cy="484.36" rx="1.35" ry="1.45" fill="none" stroke="#2a2a2a" stroke-width="0.65"/>
<ellipse cx="417.62" cy="483.93" rx="1.35" ry="1.45" fill="none" stroke="#2a2a2a" stroke-width="0.65"/>
<ellipse cx="417.62" cy="483.50" rx="1.35" ry="1.45" fill="none" stroke="#2a2a2a" stroke-width="0.65"/>
<ellipse cx="417.62" cy="483.07" rx="1.35" ry="1.45" fill="none" stroke="#2a2a2a" stroke-width="0.65"/>
<ellipse cx="417.62" cy="482.63" rx="1.35" ry="1.45" fill="none" stroke="#2a2a2a" stroke-width="0.65"/>
<ellipse cx="417.62" cy="482.20" rx="1.35" ry="1.45" fill="none" stroke="#2a2a2a" stroke-width="0.65"/>
<ellipse cx="417.62" cy="481.77" rx="1.35" ry="1.45" fill="none" stroke="#2a2a2a" stroke-width="0.65"/>
<ellipse cx="417.62" cy="481.34" rx="1.35" ry="1.45" fill="none" stroke="#2a2a2a" stroke-width="0.65"/>
<ellipse cx="417.62" cy="480.91" rx="1.35" ry="1.45" fill="none" stroke="#2a2a2a" stroke-width="0.65"/>
<ellipse cx="417.62" cy="480.47" rx="1.35" ry="1.45" fill="none" stroke="#2a2a2a" stroke-width="0.65"/>
<ellipse cx="417.62" cy="480.04" rx="1.35" ry="1.45" fill="none" stroke="#2a2a2a" stroke-width="0.65"/>
<ellipse cx="417.62" cy="479.61" rx="1.35" ry="1.45" fill="none" stroke="#2a2a2a" stroke-width="0.65"/>
<ellipse cx="417.62" cy="479.18" rx="1.35" ry="1.45" fill="none" stroke="#2a2a2a" stroke-width="0.65"/>
<ellipse cx="417.62" cy="478.74" rx="1.35" ry="1.45" fill="none" stroke="#2a2a2a" stroke-width="0.65"/>
<ellipse cx="417.62" cy="478.31" rx="1.35" ry="1.45" fill="none" stroke="#2a2a2a" stroke-width="0.65"/>
<ellipse cx="417.62" cy="477.88" rx="1.35" ry="1.45" fill="none" stroke="#2a2a2a" stroke-width="0.65"/>
<ellipse cx="417.62" cy="477.45" rx="1.35" ry="1.45" fill="none" stroke="#2a2a2a" stroke-width="0.65"/>
<ellipse cx="417.62" cy="477.02" rx="1.35" ry="1.45" fill="none" stroke="#2a2a2a" stroke-width="0.65"/>
<ellipse cx="417.62" cy="476.58" rx="1.35" ry="1.45" fill="none" stroke="#2a2a2a" stroke-width="0.65"/>
<ellipse cx="417.62" cy="476.15" rx="1.35" ry="1.45" fill="none" stroke="#2a2a2a" stroke-width="0.65"/>
<ellipse cx="417.62" cy="475.72" rx="1.35" ry="1.45" fill="none" stroke="#2a2a2a" stroke-width="0.65"/>
<ellipse cx="417.62" cy="475.29" rx="1.35" ry="1.45" fill="none" stroke="#2a2a2a" stroke-width="0.65"/>
<text class="t" x="417.62" y="520.6" text-anchor="middle">sgd</text>
<text class="l" x="350.9" y="526.9" text-anchor="middle">solver</text>
<text class="l" transform="translate(235.1 445.6) rotate(-90)" text-anchor="middle">duration (s)</text>
<text class="c" x="340.7" y="545.8" text-anchor="middle"><tspan class="b">(f)</tspan> solver</text>
</g>
</svg></body></html>
